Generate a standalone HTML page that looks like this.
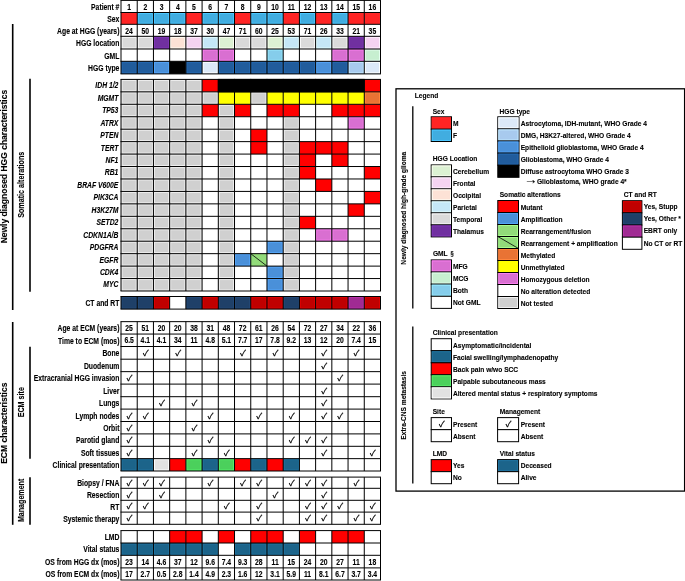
<!DOCTYPE html>
<html><head><meta charset="utf-8"><title>Figure</title>
<style>
html,body{margin:0;padding:0;background:#fff;}
svg{display:block}
svg text{font-family:"Liberation Sans", Arial, sans-serif;fill:#000;stroke:#000;stroke-width:0.12px;}
svg text.ck{font-family:"Noto Sans CJK JP","DejaVu Sans",sans-serif;stroke-width:0.3px;}
</style></head><body>
<svg width="685" height="581" viewBox="0 0 685 581">
<rect x="0" y="0" width="685" height="581" fill="#fff"/>
<rect x="121.00" y="12.50" width="16.22" height="11.80" fill="#ff2424"/>
<rect x="122.00" y="13.50" width="14.22" height="9.80" fill="none" stroke="#ff2929" stroke-width="1"/>
<rect x="137.22" y="12.50" width="16.22" height="11.80" fill="#41ade0"/>
<rect x="138.22" y="13.50" width="14.22" height="9.80" fill="none" stroke="#4bc7ff" stroke-width="1"/>
<rect x="153.44" y="12.50" width="16.22" height="11.80" fill="#41ade0"/>
<rect x="154.44" y="13.50" width="14.22" height="9.80" fill="none" stroke="#4bc7ff" stroke-width="1"/>
<rect x="169.66" y="12.50" width="16.22" height="11.80" fill="#41ade0"/>
<rect x="170.66" y="13.50" width="14.22" height="9.80" fill="none" stroke="#4bc7ff" stroke-width="1"/>
<rect x="185.88" y="12.50" width="16.22" height="11.80" fill="#ff2424"/>
<rect x="186.88" y="13.50" width="14.22" height="9.80" fill="none" stroke="#ff2929" stroke-width="1"/>
<rect x="202.09" y="12.50" width="16.22" height="11.80" fill="#41ade0"/>
<rect x="203.09" y="13.50" width="14.22" height="9.80" fill="none" stroke="#4bc7ff" stroke-width="1"/>
<rect x="218.31" y="12.50" width="16.22" height="11.80" fill="#41ade0"/>
<rect x="219.31" y="13.50" width="14.22" height="9.80" fill="none" stroke="#4bc7ff" stroke-width="1"/>
<rect x="234.53" y="12.50" width="16.22" height="11.80" fill="#ff2424"/>
<rect x="235.53" y="13.50" width="14.22" height="9.80" fill="none" stroke="#ff2929" stroke-width="1"/>
<rect x="250.75" y="12.50" width="16.22" height="11.80" fill="#41ade0"/>
<rect x="251.75" y="13.50" width="14.22" height="9.80" fill="none" stroke="#4bc7ff" stroke-width="1"/>
<rect x="266.97" y="12.50" width="16.22" height="11.80" fill="#41ade0"/>
<rect x="267.97" y="13.50" width="14.22" height="9.80" fill="none" stroke="#4bc7ff" stroke-width="1"/>
<rect x="283.19" y="12.50" width="16.22" height="11.80" fill="#ff2424"/>
<rect x="284.19" y="13.50" width="14.22" height="9.80" fill="none" stroke="#ff2929" stroke-width="1"/>
<rect x="299.41" y="12.50" width="16.22" height="11.80" fill="#41ade0"/>
<rect x="300.41" y="13.50" width="14.22" height="9.80" fill="none" stroke="#4bc7ff" stroke-width="1"/>
<rect x="315.62" y="12.50" width="16.22" height="11.80" fill="#ff2424"/>
<rect x="316.62" y="13.50" width="14.22" height="9.80" fill="none" stroke="#ff2929" stroke-width="1"/>
<rect x="331.84" y="12.50" width="16.22" height="11.80" fill="#41ade0"/>
<rect x="332.84" y="13.50" width="14.22" height="9.80" fill="none" stroke="#4bc7ff" stroke-width="1"/>
<rect x="348.06" y="12.50" width="16.22" height="11.80" fill="#ff2424"/>
<rect x="349.06" y="13.50" width="14.22" height="9.80" fill="none" stroke="#ff2929" stroke-width="1"/>
<rect x="364.28" y="12.50" width="16.22" height="11.80" fill="#ff2424"/>
<rect x="365.28" y="13.50" width="14.22" height="9.80" fill="none" stroke="#ff2929" stroke-width="1"/>
<rect x="121.00" y="36.30" width="16.22" height="12.70" fill="#dadada"/>
<rect x="122.00" y="37.30" width="14.22" height="10.70" fill="none" stroke="#fbfbfb" stroke-width="1"/>
<rect x="137.22" y="36.30" width="16.22" height="12.70" fill="#dadada"/>
<rect x="138.22" y="37.30" width="14.22" height="10.70" fill="none" stroke="#fbfbfb" stroke-width="1"/>
<rect x="153.44" y="36.30" width="16.22" height="12.70" fill="#7030a0"/>
<rect x="154.44" y="37.30" width="14.22" height="10.70" fill="none" stroke="#8137b8" stroke-width="1"/>
<rect x="169.66" y="36.30" width="16.22" height="12.70" fill="#fde2d6"/>
<rect x="170.66" y="37.30" width="14.22" height="10.70" fill="none" stroke="#fffff6" stroke-width="1"/>
<rect x="185.88" y="36.30" width="16.22" height="12.70" fill="#f5d3f1"/>
<rect x="186.88" y="37.30" width="14.22" height="10.70" fill="none" stroke="#fff3ff" stroke-width="1"/>
<rect x="202.09" y="36.30" width="16.22" height="12.70" fill="#c5e7f7"/>
<rect x="203.09" y="37.30" width="14.22" height="10.70" fill="none" stroke="#e3ffff" stroke-width="1"/>
<rect x="218.31" y="36.30" width="16.22" height="12.70" fill="#dcf1d3"/>
<rect x="219.31" y="37.30" width="14.22" height="10.70" fill="none" stroke="#fdfff3" stroke-width="1"/>
<rect x="234.53" y="36.30" width="16.22" height="12.70" fill="#dadada"/>
<rect x="235.53" y="37.30" width="14.22" height="10.70" fill="none" stroke="#fbfbfb" stroke-width="1"/>
<rect x="250.75" y="36.30" width="16.22" height="12.70" fill="#dadada"/>
<rect x="251.75" y="37.30" width="14.22" height="10.70" fill="none" stroke="#fbfbfb" stroke-width="1"/>
<rect x="266.97" y="36.30" width="16.22" height="12.70" fill="#dcf1d3"/>
<rect x="267.97" y="37.30" width="14.22" height="10.70" fill="none" stroke="#fdfff3" stroke-width="1"/>
<rect x="283.19" y="36.30" width="16.22" height="12.70" fill="#c5e7f7"/>
<rect x="284.19" y="37.30" width="14.22" height="10.70" fill="none" stroke="#e3ffff" stroke-width="1"/>
<rect x="299.41" y="36.30" width="16.22" height="12.70" fill="#dadada"/>
<rect x="300.41" y="37.30" width="14.22" height="10.70" fill="none" stroke="#fbfbfb" stroke-width="1"/>
<rect x="315.62" y="36.30" width="16.22" height="12.70" fill="#c5e7f7"/>
<rect x="316.62" y="37.30" width="14.22" height="10.70" fill="none" stroke="#e3ffff" stroke-width="1"/>
<rect x="331.84" y="36.30" width="16.22" height="12.70" fill="#dadada"/>
<rect x="332.84" y="37.30" width="14.22" height="10.70" fill="none" stroke="#fbfbfb" stroke-width="1"/>
<rect x="348.06" y="36.30" width="16.22" height="12.70" fill="#7030a0"/>
<rect x="349.06" y="37.30" width="14.22" height="10.70" fill="none" stroke="#8137b8" stroke-width="1"/>
<rect x="364.28" y="36.30" width="16.22" height="12.70" fill="#f5d3f1"/>
<rect x="365.28" y="37.30" width="14.22" height="10.70" fill="none" stroke="#fff3ff" stroke-width="1"/>
<rect x="202.09" y="49.00" width="16.22" height="12.30" fill="#d96fd1"/>
<rect x="203.09" y="50.00" width="14.22" height="10.30" fill="none" stroke="#fa80f0" stroke-width="1"/>
<rect x="218.31" y="49.00" width="16.22" height="12.30" fill="#d96fd1"/>
<rect x="219.31" y="50.00" width="14.22" height="10.30" fill="none" stroke="#fa80f0" stroke-width="1"/>
<rect x="266.97" y="49.00" width="16.22" height="12.30" fill="#85cdeb"/>
<rect x="267.97" y="50.00" width="14.22" height="10.30" fill="none" stroke="#99ecff" stroke-width="1"/>
<rect x="331.84" y="49.00" width="16.22" height="12.30" fill="#d96fd1"/>
<rect x="332.84" y="50.00" width="14.22" height="10.30" fill="none" stroke="#fa80f0" stroke-width="1"/>
<rect x="348.06" y="49.00" width="16.22" height="12.30" fill="#d96fd1"/>
<rect x="349.06" y="50.00" width="14.22" height="10.30" fill="none" stroke="#fa80f0" stroke-width="1"/>
<rect x="364.28" y="49.00" width="16.22" height="12.30" fill="#c7efd0"/>
<rect x="365.28" y="50.00" width="14.22" height="10.30" fill="none" stroke="#e5ffef" stroke-width="1"/>
<rect x="121.00" y="61.30" width="16.22" height="12.60" fill="#215c9c"/>
<rect x="122.00" y="62.30" width="14.22" height="10.60" fill="none" stroke="#266ab3" stroke-width="1"/>
<rect x="137.22" y="61.30" width="16.22" height="12.60" fill="#215c9c"/>
<rect x="138.22" y="62.30" width="14.22" height="10.60" fill="none" stroke="#266ab3" stroke-width="1"/>
<rect x="153.44" y="61.30" width="16.22" height="12.60" fill="#4a90d9"/>
<rect x="154.44" y="62.30" width="14.22" height="10.60" fill="none" stroke="#55a6fa" stroke-width="1"/>
<rect x="169.66" y="61.30" width="16.22" height="12.60" fill="#000000"/>
<rect x="185.88" y="61.30" width="16.22" height="12.60" fill="#215c9c"/>
<rect x="186.88" y="62.30" width="14.22" height="10.60" fill="none" stroke="#266ab3" stroke-width="1"/>
<rect x="202.09" y="61.30" width="16.22" height="12.60" fill="#dce9f8"/>
<rect x="203.09" y="62.30" width="14.22" height="10.60" fill="none" stroke="#fdffff" stroke-width="1"/>
<rect x="218.31" y="61.30" width="16.22" height="12.60" fill="#215c9c"/>
<rect x="219.31" y="62.30" width="14.22" height="10.60" fill="none" stroke="#266ab3" stroke-width="1"/>
<rect x="234.53" y="61.30" width="16.22" height="12.60" fill="#215c9c"/>
<rect x="235.53" y="62.30" width="14.22" height="10.60" fill="none" stroke="#266ab3" stroke-width="1"/>
<rect x="250.75" y="61.30" width="16.22" height="12.60" fill="#215c9c"/>
<rect x="251.75" y="62.30" width="14.22" height="10.60" fill="none" stroke="#266ab3" stroke-width="1"/>
<rect x="266.97" y="61.30" width="16.22" height="12.60" fill="#215c9c"/>
<rect x="267.97" y="62.30" width="14.22" height="10.60" fill="none" stroke="#266ab3" stroke-width="1"/>
<rect x="283.19" y="61.30" width="16.22" height="12.60" fill="#215c9c"/>
<rect x="284.19" y="62.30" width="14.22" height="10.60" fill="none" stroke="#266ab3" stroke-width="1"/>
<rect x="299.41" y="61.30" width="16.22" height="12.60" fill="#215c9c"/>
<rect x="300.41" y="62.30" width="14.22" height="10.60" fill="none" stroke="#266ab3" stroke-width="1"/>
<rect x="315.62" y="61.30" width="16.22" height="12.60" fill="#4a90d9"/>
<rect x="316.62" y="62.30" width="14.22" height="10.60" fill="none" stroke="#55a6fa" stroke-width="1"/>
<rect x="331.84" y="61.30" width="16.22" height="12.60" fill="#215c9c"/>
<rect x="332.84" y="62.30" width="14.22" height="10.60" fill="none" stroke="#266ab3" stroke-width="1"/>
<rect x="348.06" y="61.30" width="16.22" height="12.60" fill="#a8caee"/>
<rect x="349.06" y="62.30" width="14.22" height="10.60" fill="none" stroke="#c1e8ff" stroke-width="1"/>
<rect x="364.28" y="61.30" width="16.22" height="12.60" fill="#dce9f8"/>
<rect x="365.28" y="62.30" width="14.22" height="10.60" fill="none" stroke="#fdffff" stroke-width="1"/>
<line x1="120.50" y1="0.40" x2="381.00" y2="0.40" stroke="#000" stroke-width="1.0"/>
<line x1="120.50" y1="12.50" x2="381.00" y2="12.50" stroke="#000" stroke-width="1.0"/>
<line x1="120.50" y1="24.30" x2="381.00" y2="24.30" stroke="#000" stroke-width="1.0"/>
<line x1="120.50" y1="36.30" x2="381.00" y2="36.30" stroke="#000" stroke-width="1.0"/>
<line x1="120.50" y1="49.00" x2="381.00" y2="49.00" stroke="#000" stroke-width="1.0"/>
<line x1="120.50" y1="61.30" x2="381.00" y2="61.30" stroke="#000" stroke-width="1.0"/>
<line x1="120.50" y1="73.90" x2="381.00" y2="73.90" stroke="#000" stroke-width="1.0"/>
<line x1="121.00" y1="0.40" x2="121.00" y2="73.90" stroke="#000" stroke-width="1.0"/>
<line x1="137.22" y1="0.40" x2="137.22" y2="73.90" stroke="#000" stroke-width="1.0"/>
<line x1="153.44" y1="0.40" x2="153.44" y2="73.90" stroke="#000" stroke-width="1.0"/>
<line x1="169.66" y1="0.40" x2="169.66" y2="73.90" stroke="#000" stroke-width="1.0"/>
<line x1="185.88" y1="0.40" x2="185.88" y2="73.90" stroke="#000" stroke-width="1.0"/>
<line x1="202.09" y1="0.40" x2="202.09" y2="73.90" stroke="#000" stroke-width="1.0"/>
<line x1="218.31" y1="0.40" x2="218.31" y2="73.90" stroke="#000" stroke-width="1.0"/>
<line x1="234.53" y1="0.40" x2="234.53" y2="73.90" stroke="#000" stroke-width="1.0"/>
<line x1="250.75" y1="0.40" x2="250.75" y2="73.90" stroke="#000" stroke-width="1.0"/>
<line x1="266.97" y1="0.40" x2="266.97" y2="73.90" stroke="#000" stroke-width="1.0"/>
<line x1="283.19" y1="0.40" x2="283.19" y2="73.90" stroke="#000" stroke-width="1.0"/>
<line x1="299.41" y1="0.40" x2="299.41" y2="73.90" stroke="#000" stroke-width="1.0"/>
<line x1="315.62" y1="0.40" x2="315.62" y2="73.90" stroke="#000" stroke-width="1.0"/>
<line x1="331.84" y1="0.40" x2="331.84" y2="73.90" stroke="#000" stroke-width="1.0"/>
<line x1="348.06" y1="0.40" x2="348.06" y2="73.90" stroke="#000" stroke-width="1.0"/>
<line x1="364.28" y1="0.40" x2="364.28" y2="73.90" stroke="#000" stroke-width="1.0"/>
<line x1="380.50" y1="0.40" x2="380.50" y2="73.90" stroke="#000" stroke-width="1.0"/>
<text transform="translate(129.11,9.85) scale(0.825,1)" font-size="8.25" text-anchor="middle" font-weight="bold">1</text>
<text transform="translate(145.33,9.85) scale(0.825,1)" font-size="8.25" text-anchor="middle" font-weight="bold">2</text>
<text transform="translate(161.55,9.85) scale(0.825,1)" font-size="8.25" text-anchor="middle" font-weight="bold">3</text>
<text transform="translate(177.77,9.85) scale(0.825,1)" font-size="8.25" text-anchor="middle" font-weight="bold">4</text>
<text transform="translate(193.98,9.85) scale(0.825,1)" font-size="8.25" text-anchor="middle" font-weight="bold">5</text>
<text transform="translate(210.20,9.85) scale(0.825,1)" font-size="8.25" text-anchor="middle" font-weight="bold">6</text>
<text transform="translate(226.42,9.85) scale(0.825,1)" font-size="8.25" text-anchor="middle" font-weight="bold">7</text>
<text transform="translate(242.64,9.85) scale(0.825,1)" font-size="8.25" text-anchor="middle" font-weight="bold">8</text>
<text transform="translate(258.86,9.85) scale(0.825,1)" font-size="8.25" text-anchor="middle" font-weight="bold">9</text>
<text transform="translate(275.08,9.85) scale(0.825,1)" font-size="8.25" text-anchor="middle" font-weight="bold">10</text>
<text transform="translate(291.30,9.85) scale(0.825,1)" font-size="8.25" text-anchor="middle" font-weight="bold">11</text>
<text transform="translate(307.52,9.85) scale(0.825,1)" font-size="8.25" text-anchor="middle" font-weight="bold">12</text>
<text transform="translate(323.73,9.85) scale(0.825,1)" font-size="8.25" text-anchor="middle" font-weight="bold">13</text>
<text transform="translate(339.95,9.85) scale(0.825,1)" font-size="8.25" text-anchor="middle" font-weight="bold">14</text>
<text transform="translate(356.17,9.85) scale(0.825,1)" font-size="8.25" text-anchor="middle" font-weight="bold">15</text>
<text transform="translate(372.39,9.85) scale(0.825,1)" font-size="8.25" text-anchor="middle" font-weight="bold">16</text>
<text transform="translate(119.40,10.05) scale(0.825,1)" font-size="8.25" text-anchor="end" font-weight="bold">Patient #</text>
<text transform="translate(119.40,22.17) scale(0.825,1)" font-size="8.25" text-anchor="end" font-weight="bold">Sex</text>
<text transform="translate(129.11,33.70) scale(0.825,1)" font-size="8.25" text-anchor="middle" font-weight="bold">24</text>
<text transform="translate(145.33,33.70) scale(0.825,1)" font-size="8.25" text-anchor="middle" font-weight="bold">50</text>
<text transform="translate(161.55,33.70) scale(0.825,1)" font-size="8.25" text-anchor="middle" font-weight="bold">19</text>
<text transform="translate(177.77,33.70) scale(0.825,1)" font-size="8.25" text-anchor="middle" font-weight="bold">18</text>
<text transform="translate(193.98,33.70) scale(0.825,1)" font-size="8.25" text-anchor="middle" font-weight="bold">37</text>
<text transform="translate(210.20,33.70) scale(0.825,1)" font-size="8.25" text-anchor="middle" font-weight="bold">30</text>
<text transform="translate(226.42,33.70) scale(0.825,1)" font-size="8.25" text-anchor="middle" font-weight="bold">47</text>
<text transform="translate(242.64,33.70) scale(0.825,1)" font-size="8.25" text-anchor="middle" font-weight="bold">71</text>
<text transform="translate(258.86,33.70) scale(0.825,1)" font-size="8.25" text-anchor="middle" font-weight="bold">60</text>
<text transform="translate(275.08,33.70) scale(0.825,1)" font-size="8.25" text-anchor="middle" font-weight="bold">25</text>
<text transform="translate(291.30,33.70) scale(0.825,1)" font-size="8.25" text-anchor="middle" font-weight="bold">53</text>
<text transform="translate(307.52,33.70) scale(0.825,1)" font-size="8.25" text-anchor="middle" font-weight="bold">71</text>
<text transform="translate(323.73,33.70) scale(0.825,1)" font-size="8.25" text-anchor="middle" font-weight="bold">26</text>
<text transform="translate(339.95,33.70) scale(0.825,1)" font-size="8.25" text-anchor="middle" font-weight="bold">33</text>
<text transform="translate(356.17,33.70) scale(0.825,1)" font-size="8.25" text-anchor="middle" font-weight="bold">21</text>
<text transform="translate(372.39,33.70) scale(0.825,1)" font-size="8.25" text-anchor="middle" font-weight="bold">35</text>
<text transform="translate(119.40,34.29) scale(0.825,1)" font-size="8.25" text-anchor="end" font-weight="bold">Age at HGG (years)</text>
<text transform="translate(119.40,46.41) scale(0.825,1)" font-size="8.25" text-anchor="end" font-weight="bold">HGG location</text>
<text transform="translate(119.40,58.53) scale(0.825,1)" font-size="8.25" text-anchor="end" font-weight="bold">GML</text>
<text transform="translate(119.40,70.65) scale(0.825,1)" font-size="8.25" text-anchor="end" font-weight="bold">HGG type</text>
<rect x="121.00" y="79.40" width="16.22" height="12.45" fill="#d0d0d0"/>
<rect x="122.00" y="80.40" width="14.22" height="10.45" fill="none" stroke="#efefef" stroke-width="1"/>
<rect x="137.22" y="79.40" width="16.22" height="12.45" fill="#d0d0d0"/>
<rect x="138.22" y="80.40" width="14.22" height="10.45" fill="none" stroke="#efefef" stroke-width="1"/>
<rect x="153.44" y="79.40" width="16.22" height="12.45" fill="#d0d0d0"/>
<rect x="154.44" y="80.40" width="14.22" height="10.45" fill="none" stroke="#efefef" stroke-width="1"/>
<rect x="169.66" y="79.40" width="16.22" height="12.45" fill="#d0d0d0"/>
<rect x="170.66" y="80.40" width="14.22" height="10.45" fill="none" stroke="#efefef" stroke-width="1"/>
<rect x="185.88" y="79.40" width="16.22" height="12.45" fill="#d0d0d0"/>
<rect x="186.88" y="80.40" width="14.22" height="10.45" fill="none" stroke="#efefef" stroke-width="1"/>
<rect x="202.09" y="79.40" width="16.22" height="12.45" fill="#ff0000"/>
<rect x="364.28" y="79.40" width="16.22" height="12.45" fill="#ff0000"/>
<rect x="121.00" y="91.85" width="16.22" height="12.45" fill="#d0d0d0"/>
<rect x="122.00" y="92.85" width="14.22" height="10.45" fill="none" stroke="#efefef" stroke-width="1"/>
<rect x="137.22" y="91.85" width="16.22" height="12.45" fill="#d0d0d0"/>
<rect x="138.22" y="92.85" width="14.22" height="10.45" fill="none" stroke="#efefef" stroke-width="1"/>
<rect x="153.44" y="91.85" width="16.22" height="12.45" fill="#d0d0d0"/>
<rect x="154.44" y="92.85" width="14.22" height="10.45" fill="none" stroke="#efefef" stroke-width="1"/>
<rect x="169.66" y="91.85" width="16.22" height="12.45" fill="#d0d0d0"/>
<rect x="170.66" y="92.85" width="14.22" height="10.45" fill="none" stroke="#efefef" stroke-width="1"/>
<rect x="185.88" y="91.85" width="16.22" height="12.45" fill="#d0d0d0"/>
<rect x="186.88" y="92.85" width="14.22" height="10.45" fill="none" stroke="#efefef" stroke-width="1"/>
<rect x="202.09" y="91.85" width="16.22" height="12.45" fill="#d0d0d0"/>
<rect x="203.09" y="92.85" width="14.22" height="10.45" fill="none" stroke="#efefef" stroke-width="1"/>
<rect x="218.31" y="91.85" width="16.22" height="12.45" fill="#ffff00"/>
<rect x="234.53" y="91.85" width="16.22" height="12.45" fill="#ffff00"/>
<rect x="250.75" y="91.85" width="16.22" height="12.45" fill="#d0d0d0"/>
<rect x="251.75" y="92.85" width="14.22" height="10.45" fill="none" stroke="#efefef" stroke-width="1"/>
<rect x="266.97" y="91.85" width="16.22" height="12.45" fill="#ffff00"/>
<rect x="283.19" y="91.85" width="16.22" height="12.45" fill="#ffff00"/>
<rect x="299.41" y="91.85" width="16.22" height="12.45" fill="#ffff00"/>
<rect x="315.62" y="91.85" width="16.22" height="12.45" fill="#ffff00"/>
<rect x="331.84" y="91.85" width="16.22" height="12.45" fill="#ffff00"/>
<rect x="348.06" y="91.85" width="16.22" height="12.45" fill="#ffff00"/>
<rect x="364.28" y="91.85" width="16.22" height="12.45" fill="#e97334"/>
<rect x="365.28" y="92.85" width="14.22" height="10.45" fill="none" stroke="#ff843c" stroke-width="1"/>
<rect x="121.00" y="104.29" width="16.22" height="12.45" fill="#d0d0d0"/>
<rect x="122.00" y="105.29" width="14.22" height="10.45" fill="none" stroke="#efefef" stroke-width="1"/>
<rect x="137.22" y="104.29" width="16.22" height="12.45" fill="#d0d0d0"/>
<rect x="138.22" y="105.29" width="14.22" height="10.45" fill="none" stroke="#efefef" stroke-width="1"/>
<rect x="153.44" y="104.29" width="16.22" height="12.45" fill="#d0d0d0"/>
<rect x="154.44" y="105.29" width="14.22" height="10.45" fill="none" stroke="#efefef" stroke-width="1"/>
<rect x="169.66" y="104.29" width="16.22" height="12.45" fill="#d0d0d0"/>
<rect x="170.66" y="105.29" width="14.22" height="10.45" fill="none" stroke="#efefef" stroke-width="1"/>
<rect x="185.88" y="104.29" width="16.22" height="12.45" fill="#d0d0d0"/>
<rect x="186.88" y="105.29" width="14.22" height="10.45" fill="none" stroke="#efefef" stroke-width="1"/>
<rect x="202.09" y="104.29" width="16.22" height="12.45" fill="#ff0000"/>
<rect x="218.31" y="104.29" width="16.22" height="12.45" fill="#d0d0d0"/>
<rect x="219.31" y="105.29" width="14.22" height="10.45" fill="none" stroke="#efefef" stroke-width="1"/>
<rect x="234.53" y="104.29" width="16.22" height="12.45" fill="#ff0000"/>
<rect x="266.97" y="104.29" width="16.22" height="12.45" fill="#ff0000"/>
<rect x="283.19" y="104.29" width="16.22" height="12.45" fill="#ff0000"/>
<rect x="331.84" y="104.29" width="16.22" height="12.45" fill="#ff0000"/>
<rect x="348.06" y="104.29" width="16.22" height="12.45" fill="#ff0000"/>
<rect x="364.28" y="104.29" width="16.22" height="12.45" fill="#ff0000"/>
<rect x="121.00" y="116.74" width="16.22" height="12.45" fill="#d0d0d0"/>
<rect x="122.00" y="117.74" width="14.22" height="10.45" fill="none" stroke="#efefef" stroke-width="1"/>
<rect x="137.22" y="116.74" width="16.22" height="12.45" fill="#d0d0d0"/>
<rect x="138.22" y="117.74" width="14.22" height="10.45" fill="none" stroke="#efefef" stroke-width="1"/>
<rect x="153.44" y="116.74" width="16.22" height="12.45" fill="#d0d0d0"/>
<rect x="154.44" y="117.74" width="14.22" height="10.45" fill="none" stroke="#efefef" stroke-width="1"/>
<rect x="169.66" y="116.74" width="16.22" height="12.45" fill="#d0d0d0"/>
<rect x="170.66" y="117.74" width="14.22" height="10.45" fill="none" stroke="#efefef" stroke-width="1"/>
<rect x="185.88" y="116.74" width="16.22" height="12.45" fill="#d0d0d0"/>
<rect x="186.88" y="117.74" width="14.22" height="10.45" fill="none" stroke="#efefef" stroke-width="1"/>
<rect x="218.31" y="116.74" width="16.22" height="12.45" fill="#d0d0d0"/>
<rect x="219.31" y="117.74" width="14.22" height="10.45" fill="none" stroke="#efefef" stroke-width="1"/>
<rect x="283.19" y="116.74" width="16.22" height="12.45" fill="#d0d0d0"/>
<rect x="284.19" y="117.74" width="14.22" height="10.45" fill="none" stroke="#efefef" stroke-width="1"/>
<rect x="348.06" y="116.74" width="16.22" height="12.45" fill="#d96fd1"/>
<rect x="349.06" y="117.74" width="14.22" height="10.45" fill="none" stroke="#fa80f0" stroke-width="1"/>
<rect x="121.00" y="129.19" width="16.22" height="12.45" fill="#d0d0d0"/>
<rect x="122.00" y="130.19" width="14.22" height="10.45" fill="none" stroke="#efefef" stroke-width="1"/>
<rect x="137.22" y="129.19" width="16.22" height="12.45" fill="#d0d0d0"/>
<rect x="138.22" y="130.19" width="14.22" height="10.45" fill="none" stroke="#efefef" stroke-width="1"/>
<rect x="153.44" y="129.19" width="16.22" height="12.45" fill="#d0d0d0"/>
<rect x="154.44" y="130.19" width="14.22" height="10.45" fill="none" stroke="#efefef" stroke-width="1"/>
<rect x="169.66" y="129.19" width="16.22" height="12.45" fill="#d0d0d0"/>
<rect x="170.66" y="130.19" width="14.22" height="10.45" fill="none" stroke="#efefef" stroke-width="1"/>
<rect x="185.88" y="129.19" width="16.22" height="12.45" fill="#d0d0d0"/>
<rect x="186.88" y="130.19" width="14.22" height="10.45" fill="none" stroke="#efefef" stroke-width="1"/>
<rect x="218.31" y="129.19" width="16.22" height="12.45" fill="#d0d0d0"/>
<rect x="219.31" y="130.19" width="14.22" height="10.45" fill="none" stroke="#efefef" stroke-width="1"/>
<rect x="250.75" y="129.19" width="16.22" height="12.45" fill="#ff0000"/>
<rect x="283.19" y="129.19" width="16.22" height="12.45" fill="#d0d0d0"/>
<rect x="284.19" y="130.19" width="14.22" height="10.45" fill="none" stroke="#efefef" stroke-width="1"/>
<rect x="121.00" y="141.64" width="16.22" height="12.45" fill="#d0d0d0"/>
<rect x="122.00" y="142.64" width="14.22" height="10.45" fill="none" stroke="#efefef" stroke-width="1"/>
<rect x="137.22" y="141.64" width="16.22" height="12.45" fill="#d0d0d0"/>
<rect x="138.22" y="142.64" width="14.22" height="10.45" fill="none" stroke="#efefef" stroke-width="1"/>
<rect x="153.44" y="141.64" width="16.22" height="12.45" fill="#d0d0d0"/>
<rect x="154.44" y="142.64" width="14.22" height="10.45" fill="none" stroke="#efefef" stroke-width="1"/>
<rect x="169.66" y="141.64" width="16.22" height="12.45" fill="#d0d0d0"/>
<rect x="170.66" y="142.64" width="14.22" height="10.45" fill="none" stroke="#efefef" stroke-width="1"/>
<rect x="185.88" y="141.64" width="16.22" height="12.45" fill="#d0d0d0"/>
<rect x="186.88" y="142.64" width="14.22" height="10.45" fill="none" stroke="#efefef" stroke-width="1"/>
<rect x="218.31" y="141.64" width="16.22" height="12.45" fill="#d0d0d0"/>
<rect x="219.31" y="142.64" width="14.22" height="10.45" fill="none" stroke="#efefef" stroke-width="1"/>
<rect x="250.75" y="141.64" width="16.22" height="12.45" fill="#ff0000"/>
<rect x="283.19" y="141.64" width="16.22" height="12.45" fill="#d0d0d0"/>
<rect x="284.19" y="142.64" width="14.22" height="10.45" fill="none" stroke="#efefef" stroke-width="1"/>
<rect x="299.41" y="141.64" width="16.22" height="12.45" fill="#ff0000"/>
<rect x="315.62" y="141.64" width="16.22" height="12.45" fill="#ff0000"/>
<rect x="331.84" y="141.64" width="16.22" height="12.45" fill="#ff0000"/>
<rect x="121.00" y="154.08" width="16.22" height="12.45" fill="#d0d0d0"/>
<rect x="122.00" y="155.08" width="14.22" height="10.45" fill="none" stroke="#efefef" stroke-width="1"/>
<rect x="137.22" y="154.08" width="16.22" height="12.45" fill="#d0d0d0"/>
<rect x="138.22" y="155.08" width="14.22" height="10.45" fill="none" stroke="#efefef" stroke-width="1"/>
<rect x="153.44" y="154.08" width="16.22" height="12.45" fill="#d0d0d0"/>
<rect x="154.44" y="155.08" width="14.22" height="10.45" fill="none" stroke="#efefef" stroke-width="1"/>
<rect x="169.66" y="154.08" width="16.22" height="12.45" fill="#d0d0d0"/>
<rect x="170.66" y="155.08" width="14.22" height="10.45" fill="none" stroke="#efefef" stroke-width="1"/>
<rect x="185.88" y="154.08" width="16.22" height="12.45" fill="#d0d0d0"/>
<rect x="186.88" y="155.08" width="14.22" height="10.45" fill="none" stroke="#efefef" stroke-width="1"/>
<rect x="218.31" y="154.08" width="16.22" height="12.45" fill="#d0d0d0"/>
<rect x="219.31" y="155.08" width="14.22" height="10.45" fill="none" stroke="#efefef" stroke-width="1"/>
<rect x="283.19" y="154.08" width="16.22" height="12.45" fill="#d0d0d0"/>
<rect x="284.19" y="155.08" width="14.22" height="10.45" fill="none" stroke="#efefef" stroke-width="1"/>
<rect x="299.41" y="154.08" width="16.22" height="12.45" fill="#ff0000"/>
<rect x="331.84" y="154.08" width="16.22" height="12.45" fill="#ff0000"/>
<rect x="121.00" y="166.53" width="16.22" height="12.45" fill="#d0d0d0"/>
<rect x="122.00" y="167.53" width="14.22" height="10.45" fill="none" stroke="#efefef" stroke-width="1"/>
<rect x="137.22" y="166.53" width="16.22" height="12.45" fill="#d0d0d0"/>
<rect x="138.22" y="167.53" width="14.22" height="10.45" fill="none" stroke="#efefef" stroke-width="1"/>
<rect x="153.44" y="166.53" width="16.22" height="12.45" fill="#d0d0d0"/>
<rect x="154.44" y="167.53" width="14.22" height="10.45" fill="none" stroke="#efefef" stroke-width="1"/>
<rect x="169.66" y="166.53" width="16.22" height="12.45" fill="#d0d0d0"/>
<rect x="170.66" y="167.53" width="14.22" height="10.45" fill="none" stroke="#efefef" stroke-width="1"/>
<rect x="185.88" y="166.53" width="16.22" height="12.45" fill="#d0d0d0"/>
<rect x="186.88" y="167.53" width="14.22" height="10.45" fill="none" stroke="#efefef" stroke-width="1"/>
<rect x="218.31" y="166.53" width="16.22" height="12.45" fill="#d0d0d0"/>
<rect x="219.31" y="167.53" width="14.22" height="10.45" fill="none" stroke="#efefef" stroke-width="1"/>
<rect x="283.19" y="166.53" width="16.22" height="12.45" fill="#d0d0d0"/>
<rect x="284.19" y="167.53" width="14.22" height="10.45" fill="none" stroke="#efefef" stroke-width="1"/>
<rect x="299.41" y="166.53" width="16.22" height="12.45" fill="#ff0000"/>
<rect x="364.28" y="166.53" width="16.22" height="12.45" fill="#ff0000"/>
<rect x="121.00" y="178.98" width="16.22" height="12.45" fill="#d0d0d0"/>
<rect x="122.00" y="179.98" width="14.22" height="10.45" fill="none" stroke="#efefef" stroke-width="1"/>
<rect x="137.22" y="178.98" width="16.22" height="12.45" fill="#d0d0d0"/>
<rect x="138.22" y="179.98" width="14.22" height="10.45" fill="none" stroke="#efefef" stroke-width="1"/>
<rect x="153.44" y="178.98" width="16.22" height="12.45" fill="#d0d0d0"/>
<rect x="154.44" y="179.98" width="14.22" height="10.45" fill="none" stroke="#efefef" stroke-width="1"/>
<rect x="169.66" y="178.98" width="16.22" height="12.45" fill="#d0d0d0"/>
<rect x="170.66" y="179.98" width="14.22" height="10.45" fill="none" stroke="#efefef" stroke-width="1"/>
<rect x="185.88" y="178.98" width="16.22" height="12.45" fill="#d0d0d0"/>
<rect x="186.88" y="179.98" width="14.22" height="10.45" fill="none" stroke="#efefef" stroke-width="1"/>
<rect x="218.31" y="178.98" width="16.22" height="12.45" fill="#d0d0d0"/>
<rect x="219.31" y="179.98" width="14.22" height="10.45" fill="none" stroke="#efefef" stroke-width="1"/>
<rect x="283.19" y="178.98" width="16.22" height="12.45" fill="#d0d0d0"/>
<rect x="284.19" y="179.98" width="14.22" height="10.45" fill="none" stroke="#efefef" stroke-width="1"/>
<rect x="315.62" y="178.98" width="16.22" height="12.45" fill="#ff0000"/>
<rect x="121.00" y="191.42" width="16.22" height="12.45" fill="#d0d0d0"/>
<rect x="122.00" y="192.42" width="14.22" height="10.45" fill="none" stroke="#efefef" stroke-width="1"/>
<rect x="137.22" y="191.42" width="16.22" height="12.45" fill="#d0d0d0"/>
<rect x="138.22" y="192.42" width="14.22" height="10.45" fill="none" stroke="#efefef" stroke-width="1"/>
<rect x="153.44" y="191.42" width="16.22" height="12.45" fill="#d0d0d0"/>
<rect x="154.44" y="192.42" width="14.22" height="10.45" fill="none" stroke="#efefef" stroke-width="1"/>
<rect x="169.66" y="191.42" width="16.22" height="12.45" fill="#d0d0d0"/>
<rect x="170.66" y="192.42" width="14.22" height="10.45" fill="none" stroke="#efefef" stroke-width="1"/>
<rect x="185.88" y="191.42" width="16.22" height="12.45" fill="#d0d0d0"/>
<rect x="186.88" y="192.42" width="14.22" height="10.45" fill="none" stroke="#efefef" stroke-width="1"/>
<rect x="218.31" y="191.42" width="16.22" height="12.45" fill="#d0d0d0"/>
<rect x="219.31" y="192.42" width="14.22" height="10.45" fill="none" stroke="#efefef" stroke-width="1"/>
<rect x="283.19" y="191.42" width="16.22" height="12.45" fill="#d0d0d0"/>
<rect x="284.19" y="192.42" width="14.22" height="10.45" fill="none" stroke="#efefef" stroke-width="1"/>
<rect x="364.28" y="191.42" width="16.22" height="12.45" fill="#ff0000"/>
<rect x="121.00" y="203.87" width="16.22" height="12.45" fill="#d0d0d0"/>
<rect x="122.00" y="204.87" width="14.22" height="10.45" fill="none" stroke="#efefef" stroke-width="1"/>
<rect x="137.22" y="203.87" width="16.22" height="12.45" fill="#d0d0d0"/>
<rect x="138.22" y="204.87" width="14.22" height="10.45" fill="none" stroke="#efefef" stroke-width="1"/>
<rect x="153.44" y="203.87" width="16.22" height="12.45" fill="#d0d0d0"/>
<rect x="154.44" y="204.87" width="14.22" height="10.45" fill="none" stroke="#efefef" stroke-width="1"/>
<rect x="169.66" y="203.87" width="16.22" height="12.45" fill="#d0d0d0"/>
<rect x="170.66" y="204.87" width="14.22" height="10.45" fill="none" stroke="#efefef" stroke-width="1"/>
<rect x="185.88" y="203.87" width="16.22" height="12.45" fill="#d0d0d0"/>
<rect x="186.88" y="204.87" width="14.22" height="10.45" fill="none" stroke="#efefef" stroke-width="1"/>
<rect x="218.31" y="203.87" width="16.22" height="12.45" fill="#d0d0d0"/>
<rect x="219.31" y="204.87" width="14.22" height="10.45" fill="none" stroke="#efefef" stroke-width="1"/>
<rect x="283.19" y="203.87" width="16.22" height="12.45" fill="#d0d0d0"/>
<rect x="284.19" y="204.87" width="14.22" height="10.45" fill="none" stroke="#efefef" stroke-width="1"/>
<rect x="348.06" y="203.87" width="16.22" height="12.45" fill="#ff0000"/>
<rect x="121.00" y="216.32" width="16.22" height="12.45" fill="#d0d0d0"/>
<rect x="122.00" y="217.32" width="14.22" height="10.45" fill="none" stroke="#efefef" stroke-width="1"/>
<rect x="137.22" y="216.32" width="16.22" height="12.45" fill="#d0d0d0"/>
<rect x="138.22" y="217.32" width="14.22" height="10.45" fill="none" stroke="#efefef" stroke-width="1"/>
<rect x="153.44" y="216.32" width="16.22" height="12.45" fill="#d0d0d0"/>
<rect x="154.44" y="217.32" width="14.22" height="10.45" fill="none" stroke="#efefef" stroke-width="1"/>
<rect x="169.66" y="216.32" width="16.22" height="12.45" fill="#d0d0d0"/>
<rect x="170.66" y="217.32" width="14.22" height="10.45" fill="none" stroke="#efefef" stroke-width="1"/>
<rect x="185.88" y="216.32" width="16.22" height="12.45" fill="#d0d0d0"/>
<rect x="186.88" y="217.32" width="14.22" height="10.45" fill="none" stroke="#efefef" stroke-width="1"/>
<rect x="218.31" y="216.32" width="16.22" height="12.45" fill="#d0d0d0"/>
<rect x="219.31" y="217.32" width="14.22" height="10.45" fill="none" stroke="#efefef" stroke-width="1"/>
<rect x="283.19" y="216.32" width="16.22" height="12.45" fill="#d0d0d0"/>
<rect x="284.19" y="217.32" width="14.22" height="10.45" fill="none" stroke="#efefef" stroke-width="1"/>
<rect x="299.41" y="216.32" width="16.22" height="12.45" fill="#ff0000"/>
<rect x="121.00" y="228.76" width="16.22" height="12.45" fill="#d0d0d0"/>
<rect x="122.00" y="229.76" width="14.22" height="10.45" fill="none" stroke="#efefef" stroke-width="1"/>
<rect x="137.22" y="228.76" width="16.22" height="12.45" fill="#d0d0d0"/>
<rect x="138.22" y="229.76" width="14.22" height="10.45" fill="none" stroke="#efefef" stroke-width="1"/>
<rect x="153.44" y="228.76" width="16.22" height="12.45" fill="#d0d0d0"/>
<rect x="154.44" y="229.76" width="14.22" height="10.45" fill="none" stroke="#efefef" stroke-width="1"/>
<rect x="169.66" y="228.76" width="16.22" height="12.45" fill="#d0d0d0"/>
<rect x="170.66" y="229.76" width="14.22" height="10.45" fill="none" stroke="#efefef" stroke-width="1"/>
<rect x="185.88" y="228.76" width="16.22" height="12.45" fill="#d0d0d0"/>
<rect x="186.88" y="229.76" width="14.22" height="10.45" fill="none" stroke="#efefef" stroke-width="1"/>
<rect x="218.31" y="228.76" width="16.22" height="12.45" fill="#d0d0d0"/>
<rect x="219.31" y="229.76" width="14.22" height="10.45" fill="none" stroke="#efefef" stroke-width="1"/>
<rect x="283.19" y="228.76" width="16.22" height="12.45" fill="#d0d0d0"/>
<rect x="284.19" y="229.76" width="14.22" height="10.45" fill="none" stroke="#efefef" stroke-width="1"/>
<rect x="315.62" y="228.76" width="16.22" height="12.45" fill="#d96fd1"/>
<rect x="316.62" y="229.76" width="14.22" height="10.45" fill="none" stroke="#fa80f0" stroke-width="1"/>
<rect x="331.84" y="228.76" width="16.22" height="12.45" fill="#d96fd1"/>
<rect x="332.84" y="229.76" width="14.22" height="10.45" fill="none" stroke="#fa80f0" stroke-width="1"/>
<rect x="121.00" y="241.21" width="16.22" height="12.45" fill="#d0d0d0"/>
<rect x="122.00" y="242.21" width="14.22" height="10.45" fill="none" stroke="#efefef" stroke-width="1"/>
<rect x="137.22" y="241.21" width="16.22" height="12.45" fill="#d0d0d0"/>
<rect x="138.22" y="242.21" width="14.22" height="10.45" fill="none" stroke="#efefef" stroke-width="1"/>
<rect x="153.44" y="241.21" width="16.22" height="12.45" fill="#d0d0d0"/>
<rect x="154.44" y="242.21" width="14.22" height="10.45" fill="none" stroke="#efefef" stroke-width="1"/>
<rect x="169.66" y="241.21" width="16.22" height="12.45" fill="#d0d0d0"/>
<rect x="170.66" y="242.21" width="14.22" height="10.45" fill="none" stroke="#efefef" stroke-width="1"/>
<rect x="185.88" y="241.21" width="16.22" height="12.45" fill="#d0d0d0"/>
<rect x="186.88" y="242.21" width="14.22" height="10.45" fill="none" stroke="#efefef" stroke-width="1"/>
<rect x="218.31" y="241.21" width="16.22" height="12.45" fill="#d0d0d0"/>
<rect x="219.31" y="242.21" width="14.22" height="10.45" fill="none" stroke="#efefef" stroke-width="1"/>
<rect x="266.97" y="241.21" width="16.22" height="12.45" fill="#4a90d9"/>
<rect x="267.97" y="242.21" width="14.22" height="10.45" fill="none" stroke="#55a6fa" stroke-width="1"/>
<rect x="283.19" y="241.21" width="16.22" height="12.45" fill="#d0d0d0"/>
<rect x="284.19" y="242.21" width="14.22" height="10.45" fill="none" stroke="#efefef" stroke-width="1"/>
<rect x="121.00" y="253.66" width="16.22" height="12.45" fill="#d0d0d0"/>
<rect x="122.00" y="254.66" width="14.22" height="10.45" fill="none" stroke="#efefef" stroke-width="1"/>
<rect x="137.22" y="253.66" width="16.22" height="12.45" fill="#d0d0d0"/>
<rect x="138.22" y="254.66" width="14.22" height="10.45" fill="none" stroke="#efefef" stroke-width="1"/>
<rect x="153.44" y="253.66" width="16.22" height="12.45" fill="#d0d0d0"/>
<rect x="154.44" y="254.66" width="14.22" height="10.45" fill="none" stroke="#efefef" stroke-width="1"/>
<rect x="169.66" y="253.66" width="16.22" height="12.45" fill="#d0d0d0"/>
<rect x="170.66" y="254.66" width="14.22" height="10.45" fill="none" stroke="#efefef" stroke-width="1"/>
<rect x="185.88" y="253.66" width="16.22" height="12.45" fill="#d0d0d0"/>
<rect x="186.88" y="254.66" width="14.22" height="10.45" fill="none" stroke="#efefef" stroke-width="1"/>
<rect x="218.31" y="253.66" width="16.22" height="12.45" fill="#d0d0d0"/>
<rect x="219.31" y="254.66" width="14.22" height="10.45" fill="none" stroke="#efefef" stroke-width="1"/>
<rect x="234.53" y="253.66" width="16.22" height="12.45" fill="#4a90d9"/>
<rect x="235.53" y="254.66" width="14.22" height="10.45" fill="none" stroke="#55a6fa" stroke-width="1"/>
<rect x="250.75" y="253.66" width="16.22" height="12.45" fill="#92db7a"/>
<line x1="250.75" y1="253.66" x2="266.97" y2="266.11" stroke="#000" stroke-width="0.8"/>
<rect x="283.19" y="253.66" width="16.22" height="12.45" fill="#d0d0d0"/>
<rect x="284.19" y="254.66" width="14.22" height="10.45" fill="none" stroke="#efefef" stroke-width="1"/>
<rect x="121.00" y="266.11" width="16.22" height="12.45" fill="#d0d0d0"/>
<rect x="122.00" y="267.11" width="14.22" height="10.45" fill="none" stroke="#efefef" stroke-width="1"/>
<rect x="137.22" y="266.11" width="16.22" height="12.45" fill="#d0d0d0"/>
<rect x="138.22" y="267.11" width="14.22" height="10.45" fill="none" stroke="#efefef" stroke-width="1"/>
<rect x="153.44" y="266.11" width="16.22" height="12.45" fill="#d0d0d0"/>
<rect x="154.44" y="267.11" width="14.22" height="10.45" fill="none" stroke="#efefef" stroke-width="1"/>
<rect x="169.66" y="266.11" width="16.22" height="12.45" fill="#d0d0d0"/>
<rect x="170.66" y="267.11" width="14.22" height="10.45" fill="none" stroke="#efefef" stroke-width="1"/>
<rect x="185.88" y="266.11" width="16.22" height="12.45" fill="#d0d0d0"/>
<rect x="186.88" y="267.11" width="14.22" height="10.45" fill="none" stroke="#efefef" stroke-width="1"/>
<rect x="218.31" y="266.11" width="16.22" height="12.45" fill="#d0d0d0"/>
<rect x="219.31" y="267.11" width="14.22" height="10.45" fill="none" stroke="#efefef" stroke-width="1"/>
<rect x="266.97" y="266.11" width="16.22" height="12.45" fill="#4a90d9"/>
<rect x="267.97" y="267.11" width="14.22" height="10.45" fill="none" stroke="#55a6fa" stroke-width="1"/>
<rect x="283.19" y="266.11" width="16.22" height="12.45" fill="#d0d0d0"/>
<rect x="284.19" y="267.11" width="14.22" height="10.45" fill="none" stroke="#efefef" stroke-width="1"/>
<rect x="121.00" y="278.55" width="16.22" height="12.45" fill="#d0d0d0"/>
<rect x="122.00" y="279.55" width="14.22" height="10.45" fill="none" stroke="#efefef" stroke-width="1"/>
<rect x="137.22" y="278.55" width="16.22" height="12.45" fill="#d0d0d0"/>
<rect x="138.22" y="279.55" width="14.22" height="10.45" fill="none" stroke="#efefef" stroke-width="1"/>
<rect x="153.44" y="278.55" width="16.22" height="12.45" fill="#d0d0d0"/>
<rect x="154.44" y="279.55" width="14.22" height="10.45" fill="none" stroke="#efefef" stroke-width="1"/>
<rect x="169.66" y="278.55" width="16.22" height="12.45" fill="#d0d0d0"/>
<rect x="170.66" y="279.55" width="14.22" height="10.45" fill="none" stroke="#efefef" stroke-width="1"/>
<rect x="185.88" y="278.55" width="16.22" height="12.45" fill="#d0d0d0"/>
<rect x="186.88" y="279.55" width="14.22" height="10.45" fill="none" stroke="#efefef" stroke-width="1"/>
<rect x="218.31" y="278.55" width="16.22" height="12.45" fill="#d0d0d0"/>
<rect x="219.31" y="279.55" width="14.22" height="10.45" fill="none" stroke="#efefef" stroke-width="1"/>
<rect x="266.97" y="278.55" width="16.22" height="12.45" fill="#4a90d9"/>
<rect x="267.97" y="279.55" width="14.22" height="10.45" fill="none" stroke="#55a6fa" stroke-width="1"/>
<rect x="283.19" y="278.55" width="16.22" height="12.45" fill="#d0d0d0"/>
<rect x="284.19" y="279.55" width="14.22" height="10.45" fill="none" stroke="#efefef" stroke-width="1"/>
<line x1="120.50" y1="79.40" x2="381.00" y2="79.40" stroke="#000" stroke-width="1.0"/>
<line x1="120.50" y1="91.85" x2="381.00" y2="91.85" stroke="#000" stroke-width="1.0"/>
<line x1="120.50" y1="104.29" x2="381.00" y2="104.29" stroke="#000" stroke-width="1.0"/>
<line x1="120.50" y1="116.74" x2="381.00" y2="116.74" stroke="#000" stroke-width="1.0"/>
<line x1="120.50" y1="129.19" x2="381.00" y2="129.19" stroke="#000" stroke-width="1.0"/>
<line x1="120.50" y1="141.64" x2="381.00" y2="141.64" stroke="#000" stroke-width="1.0"/>
<line x1="120.50" y1="154.08" x2="381.00" y2="154.08" stroke="#000" stroke-width="1.0"/>
<line x1="120.50" y1="166.53" x2="381.00" y2="166.53" stroke="#000" stroke-width="1.0"/>
<line x1="120.50" y1="178.98" x2="381.00" y2="178.98" stroke="#000" stroke-width="1.0"/>
<line x1="120.50" y1="191.42" x2="381.00" y2="191.42" stroke="#000" stroke-width="1.0"/>
<line x1="120.50" y1="203.87" x2="381.00" y2="203.87" stroke="#000" stroke-width="1.0"/>
<line x1="120.50" y1="216.32" x2="381.00" y2="216.32" stroke="#000" stroke-width="1.0"/>
<line x1="120.50" y1="228.76" x2="381.00" y2="228.76" stroke="#000" stroke-width="1.0"/>
<line x1="120.50" y1="241.21" x2="381.00" y2="241.21" stroke="#000" stroke-width="1.0"/>
<line x1="120.50" y1="253.66" x2="381.00" y2="253.66" stroke="#000" stroke-width="1.0"/>
<line x1="120.50" y1="266.11" x2="381.00" y2="266.11" stroke="#000" stroke-width="1.0"/>
<line x1="120.50" y1="278.55" x2="381.00" y2="278.55" stroke="#000" stroke-width="1.0"/>
<line x1="120.50" y1="291.00" x2="381.00" y2="291.00" stroke="#000" stroke-width="1.0"/>
<line x1="121.00" y1="79.40" x2="121.00" y2="291.00" stroke="#000" stroke-width="1.0"/>
<line x1="137.22" y1="79.40" x2="137.22" y2="291.00" stroke="#000" stroke-width="1.0"/>
<line x1="153.44" y1="79.40" x2="153.44" y2="291.00" stroke="#000" stroke-width="1.0"/>
<line x1="169.66" y1="79.40" x2="169.66" y2="291.00" stroke="#000" stroke-width="1.0"/>
<line x1="185.88" y1="79.40" x2="185.88" y2="291.00" stroke="#000" stroke-width="1.0"/>
<line x1="202.09" y1="79.40" x2="202.09" y2="291.00" stroke="#000" stroke-width="1.0"/>
<line x1="218.31" y1="79.40" x2="218.31" y2="291.00" stroke="#000" stroke-width="1.0"/>
<line x1="234.53" y1="79.40" x2="234.53" y2="291.00" stroke="#000" stroke-width="1.0"/>
<line x1="250.75" y1="79.40" x2="250.75" y2="291.00" stroke="#000" stroke-width="1.0"/>
<line x1="266.97" y1="79.40" x2="266.97" y2="291.00" stroke="#000" stroke-width="1.0"/>
<line x1="283.19" y1="79.40" x2="283.19" y2="291.00" stroke="#000" stroke-width="1.0"/>
<line x1="299.41" y1="79.40" x2="299.41" y2="291.00" stroke="#000" stroke-width="1.0"/>
<line x1="315.62" y1="79.40" x2="315.62" y2="291.00" stroke="#000" stroke-width="1.0"/>
<line x1="331.84" y1="79.40" x2="331.84" y2="291.00" stroke="#000" stroke-width="1.0"/>
<line x1="348.06" y1="79.40" x2="348.06" y2="291.00" stroke="#000" stroke-width="1.0"/>
<line x1="364.28" y1="79.40" x2="364.28" y2="291.00" stroke="#000" stroke-width="1.0"/>
<line x1="380.50" y1="79.40" x2="380.50" y2="291.00" stroke="#000" stroke-width="1.0"/>
<rect x="217.81" y="78.90" width="17.22" height="13.45" fill="#000000"/>
<rect x="234.03" y="78.90" width="17.22" height="13.45" fill="#000000"/>
<rect x="250.25" y="78.90" width="17.22" height="13.45" fill="#000000"/>
<rect x="266.47" y="78.90" width="17.22" height="13.45" fill="#000000"/>
<rect x="282.69" y="78.90" width="17.22" height="13.45" fill="#000000"/>
<rect x="298.91" y="78.90" width="17.22" height="13.45" fill="#000000"/>
<rect x="315.12" y="78.90" width="17.22" height="13.45" fill="#000000"/>
<rect x="331.34" y="78.90" width="17.22" height="13.45" fill="#000000"/>
<rect x="347.56" y="78.90" width="17.22" height="13.45" fill="#000000"/>
<text transform="translate(118.40,88.32) scale(0.825,1)" font-size="8.25" text-anchor="end" font-weight="bold" font-style="italic">IDH 1/2</text>
<text transform="translate(118.40,100.77) scale(0.825,1)" font-size="8.25" text-anchor="end" font-weight="bold" font-style="italic">MGMT</text>
<text transform="translate(118.40,113.22) scale(0.825,1)" font-size="8.25" text-anchor="end" font-weight="bold" font-style="italic">TP53</text>
<text transform="translate(118.40,125.66) scale(0.825,1)" font-size="8.25" text-anchor="end" font-weight="bold" font-style="italic">ATRX</text>
<text transform="translate(118.40,138.11) scale(0.825,1)" font-size="8.25" text-anchor="end" font-weight="bold" font-style="italic">PTEN</text>
<text transform="translate(118.40,150.56) scale(0.825,1)" font-size="8.25" text-anchor="end" font-weight="bold" font-style="italic">TERT</text>
<text transform="translate(118.40,163.01) scale(0.825,1)" font-size="8.25" text-anchor="end" font-weight="bold" font-style="italic">NF1</text>
<text transform="translate(118.40,175.45) scale(0.825,1)" font-size="8.25" text-anchor="end" font-weight="bold" font-style="italic">RB1</text>
<text transform="translate(118.40,187.90) scale(0.825,1)" font-size="8.25" text-anchor="end" font-weight="bold" font-style="italic">BRAF V600E</text>
<text transform="translate(118.40,200.35) scale(0.825,1)" font-size="8.25" text-anchor="end" font-weight="bold" font-style="italic">PIK3CA</text>
<text transform="translate(118.40,212.79) scale(0.825,1)" font-size="8.25" text-anchor="end" font-weight="bold" font-style="italic">H3K27M</text>
<text transform="translate(118.40,225.24) scale(0.825,1)" font-size="8.25" text-anchor="end" font-weight="bold" font-style="italic">SETD2</text>
<text transform="translate(118.40,237.69) scale(0.825,1)" font-size="8.25" text-anchor="end" font-weight="bold" font-style="italic">CDKN1A/B</text>
<text transform="translate(118.40,250.14) scale(0.825,1)" font-size="8.25" text-anchor="end" font-weight="bold" font-style="italic">PDGFRA</text>
<text transform="translate(118.40,262.58) scale(0.825,1)" font-size="8.25" text-anchor="end" font-weight="bold" font-style="italic">EGFR</text>
<text transform="translate(118.40,275.03) scale(0.825,1)" font-size="8.25" text-anchor="end" font-weight="bold" font-style="italic">CDK4</text>
<text transform="translate(118.40,287.48) scale(0.825,1)" font-size="8.25" text-anchor="end" font-weight="bold" font-style="italic">MYC</text>
<rect x="121.00" y="296.50" width="16.22" height="12.60" fill="#1f4068"/>
<rect x="122.00" y="297.50" width="14.22" height="10.60" fill="none" stroke="#244a78" stroke-width="1"/>
<rect x="137.22" y="296.50" width="16.22" height="12.60" fill="#1f4068"/>
<rect x="138.22" y="297.50" width="14.22" height="10.60" fill="none" stroke="#244a78" stroke-width="1"/>
<rect x="153.44" y="296.50" width="16.22" height="12.60" fill="#c00000"/>
<rect x="154.44" y="297.50" width="14.22" height="10.60" fill="none" stroke="#dd0000" stroke-width="1"/>
<rect x="185.88" y="296.50" width="16.22" height="12.60" fill="#1f4068"/>
<rect x="186.88" y="297.50" width="14.22" height="10.60" fill="none" stroke="#244a78" stroke-width="1"/>
<rect x="202.09" y="296.50" width="16.22" height="12.60" fill="#c00000"/>
<rect x="203.09" y="297.50" width="14.22" height="10.60" fill="none" stroke="#dd0000" stroke-width="1"/>
<rect x="218.31" y="296.50" width="16.22" height="12.60" fill="#1f4068"/>
<rect x="219.31" y="297.50" width="14.22" height="10.60" fill="none" stroke="#244a78" stroke-width="1"/>
<rect x="234.53" y="296.50" width="16.22" height="12.60" fill="#1f4068"/>
<rect x="235.53" y="297.50" width="14.22" height="10.60" fill="none" stroke="#244a78" stroke-width="1"/>
<rect x="250.75" y="296.50" width="16.22" height="12.60" fill="#c00000"/>
<rect x="251.75" y="297.50" width="14.22" height="10.60" fill="none" stroke="#dd0000" stroke-width="1"/>
<rect x="266.97" y="296.50" width="16.22" height="12.60" fill="#c00000"/>
<rect x="267.97" y="297.50" width="14.22" height="10.60" fill="none" stroke="#dd0000" stroke-width="1"/>
<rect x="283.19" y="296.50" width="16.22" height="12.60" fill="#1f4068"/>
<rect x="284.19" y="297.50" width="14.22" height="10.60" fill="none" stroke="#244a78" stroke-width="1"/>
<rect x="299.41" y="296.50" width="16.22" height="12.60" fill="#c00000"/>
<rect x="300.41" y="297.50" width="14.22" height="10.60" fill="none" stroke="#dd0000" stroke-width="1"/>
<rect x="315.62" y="296.50" width="16.22" height="12.60" fill="#c00000"/>
<rect x="316.62" y="297.50" width="14.22" height="10.60" fill="none" stroke="#dd0000" stroke-width="1"/>
<rect x="331.84" y="296.50" width="16.22" height="12.60" fill="#c00000"/>
<rect x="332.84" y="297.50" width="14.22" height="10.60" fill="none" stroke="#dd0000" stroke-width="1"/>
<rect x="348.06" y="296.50" width="16.22" height="12.60" fill="#a02b93"/>
<rect x="349.06" y="297.50" width="14.22" height="10.60" fill="none" stroke="#b831a9" stroke-width="1"/>
<rect x="364.28" y="296.50" width="16.22" height="12.60" fill="#c00000"/>
<rect x="365.28" y="297.50" width="14.22" height="10.60" fill="none" stroke="#dd0000" stroke-width="1"/>
<line x1="120.50" y1="296.50" x2="381.00" y2="296.50" stroke="#000" stroke-width="1.0"/>
<line x1="120.50" y1="309.10" x2="381.00" y2="309.10" stroke="#000" stroke-width="1.0"/>
<line x1="121.00" y1="296.50" x2="121.00" y2="309.10" stroke="#000" stroke-width="1.0"/>
<line x1="137.22" y1="296.50" x2="137.22" y2="309.10" stroke="#000" stroke-width="1.0"/>
<line x1="153.44" y1="296.50" x2="153.44" y2="309.10" stroke="#000" stroke-width="1.0"/>
<line x1="169.66" y1="296.50" x2="169.66" y2="309.10" stroke="#000" stroke-width="1.0"/>
<line x1="185.88" y1="296.50" x2="185.88" y2="309.10" stroke="#000" stroke-width="1.0"/>
<line x1="202.09" y1="296.50" x2="202.09" y2="309.10" stroke="#000" stroke-width="1.0"/>
<line x1="218.31" y1="296.50" x2="218.31" y2="309.10" stroke="#000" stroke-width="1.0"/>
<line x1="234.53" y1="296.50" x2="234.53" y2="309.10" stroke="#000" stroke-width="1.0"/>
<line x1="250.75" y1="296.50" x2="250.75" y2="309.10" stroke="#000" stroke-width="1.0"/>
<line x1="266.97" y1="296.50" x2="266.97" y2="309.10" stroke="#000" stroke-width="1.0"/>
<line x1="283.19" y1="296.50" x2="283.19" y2="309.10" stroke="#000" stroke-width="1.0"/>
<line x1="299.41" y1="296.50" x2="299.41" y2="309.10" stroke="#000" stroke-width="1.0"/>
<line x1="315.62" y1="296.50" x2="315.62" y2="309.10" stroke="#000" stroke-width="1.0"/>
<line x1="331.84" y1="296.50" x2="331.84" y2="309.10" stroke="#000" stroke-width="1.0"/>
<line x1="348.06" y1="296.50" x2="348.06" y2="309.10" stroke="#000" stroke-width="1.0"/>
<line x1="364.28" y1="296.50" x2="364.28" y2="309.10" stroke="#000" stroke-width="1.0"/>
<line x1="380.50" y1="296.50" x2="380.50" y2="309.10" stroke="#000" stroke-width="1.0"/>
<text transform="translate(119.40,306.10) scale(0.825,1)" font-size="8.25" text-anchor="end" font-weight="bold">CT and RT</text>
<rect x="121.00" y="458.65" width="16.22" height="12.35" fill="#1c648a"/>
<rect x="122.00" y="459.65" width="14.22" height="10.35" fill="none" stroke="#20739f" stroke-width="1"/>
<rect x="137.22" y="458.65" width="16.22" height="12.35" fill="#1c648a"/>
<rect x="138.22" y="459.65" width="14.22" height="10.35" fill="none" stroke="#20739f" stroke-width="1"/>
<rect x="153.44" y="458.65" width="16.22" height="12.35" fill="#e2e2e2"/>
<rect x="154.44" y="459.65" width="14.22" height="10.35" fill="none" stroke="#ffffff" stroke-width="1"/>
<rect x="169.66" y="458.65" width="16.22" height="12.35" fill="#ff0000"/>
<rect x="185.88" y="458.65" width="16.22" height="12.35" fill="#4bd05c"/>
<rect x="186.88" y="459.65" width="14.22" height="10.35" fill="none" stroke="#56ef6a" stroke-width="1"/>
<rect x="202.09" y="458.65" width="16.22" height="12.35" fill="#1c648a"/>
<rect x="203.09" y="459.65" width="14.22" height="10.35" fill="none" stroke="#20739f" stroke-width="1"/>
<rect x="218.31" y="458.65" width="16.22" height="12.35" fill="#4bd05c"/>
<rect x="219.31" y="459.65" width="14.22" height="10.35" fill="none" stroke="#56ef6a" stroke-width="1"/>
<rect x="234.53" y="458.65" width="16.22" height="12.35" fill="#ff0000"/>
<rect x="250.75" y="458.65" width="16.22" height="12.35" fill="#1c648a"/>
<rect x="251.75" y="459.65" width="14.22" height="10.35" fill="none" stroke="#20739f" stroke-width="1"/>
<rect x="266.97" y="458.65" width="16.22" height="12.35" fill="#ff0000"/>
<rect x="283.19" y="458.65" width="16.22" height="12.35" fill="#1c648a"/>
<rect x="284.19" y="459.65" width="14.22" height="10.35" fill="none" stroke="#20739f" stroke-width="1"/>
<line x1="120.50" y1="321.65" x2="381.00" y2="321.65" stroke="#000" stroke-width="1.0"/>
<line x1="120.50" y1="334.05" x2="381.00" y2="334.05" stroke="#000" stroke-width="1.0"/>
<line x1="120.50" y1="346.50" x2="381.00" y2="346.50" stroke="#000" stroke-width="1.0"/>
<line x1="120.50" y1="359.20" x2="381.00" y2="359.20" stroke="#000" stroke-width="1.0"/>
<line x1="120.50" y1="371.65" x2="381.00" y2="371.65" stroke="#000" stroke-width="1.0"/>
<line x1="120.50" y1="384.10" x2="381.00" y2="384.10" stroke="#000" stroke-width="1.0"/>
<line x1="120.50" y1="396.70" x2="381.00" y2="396.70" stroke="#000" stroke-width="1.0"/>
<line x1="120.50" y1="409.10" x2="381.00" y2="409.10" stroke="#000" stroke-width="1.0"/>
<line x1="120.50" y1="421.50" x2="381.00" y2="421.50" stroke="#000" stroke-width="1.0"/>
<line x1="120.50" y1="433.90" x2="381.00" y2="433.90" stroke="#000" stroke-width="1.0"/>
<line x1="120.50" y1="446.30" x2="381.00" y2="446.30" stroke="#000" stroke-width="1.0"/>
<line x1="120.50" y1="458.65" x2="381.00" y2="458.65" stroke="#000" stroke-width="1.0"/>
<line x1="120.50" y1="471.00" x2="381.00" y2="471.00" stroke="#000" stroke-width="1.0"/>
<line x1="121.00" y1="321.65" x2="121.00" y2="471.00" stroke="#000" stroke-width="1.0"/>
<line x1="137.22" y1="321.65" x2="137.22" y2="471.00" stroke="#000" stroke-width="1.0"/>
<line x1="153.44" y1="321.65" x2="153.44" y2="471.00" stroke="#000" stroke-width="1.0"/>
<line x1="169.66" y1="321.65" x2="169.66" y2="471.00" stroke="#000" stroke-width="1.0"/>
<line x1="185.88" y1="321.65" x2="185.88" y2="471.00" stroke="#000" stroke-width="1.0"/>
<line x1="202.09" y1="321.65" x2="202.09" y2="471.00" stroke="#000" stroke-width="1.0"/>
<line x1="218.31" y1="321.65" x2="218.31" y2="471.00" stroke="#000" stroke-width="1.0"/>
<line x1="234.53" y1="321.65" x2="234.53" y2="471.00" stroke="#000" stroke-width="1.0"/>
<line x1="250.75" y1="321.65" x2="250.75" y2="471.00" stroke="#000" stroke-width="1.0"/>
<line x1="266.97" y1="321.65" x2="266.97" y2="471.00" stroke="#000" stroke-width="1.0"/>
<line x1="283.19" y1="321.65" x2="283.19" y2="471.00" stroke="#000" stroke-width="1.0"/>
<line x1="299.41" y1="321.65" x2="299.41" y2="471.00" stroke="#000" stroke-width="1.0"/>
<line x1="315.62" y1="321.65" x2="315.62" y2="471.00" stroke="#000" stroke-width="1.0"/>
<line x1="331.84" y1="321.65" x2="331.84" y2="471.00" stroke="#000" stroke-width="1.0"/>
<line x1="348.06" y1="321.65" x2="348.06" y2="471.00" stroke="#000" stroke-width="1.0"/>
<line x1="364.28" y1="321.65" x2="364.28" y2="471.00" stroke="#000" stroke-width="1.0"/>
<line x1="380.50" y1="321.65" x2="380.50" y2="471.00" stroke="#000" stroke-width="1.0"/>
<text transform="translate(129.11,330.85) scale(0.825,1)" font-size="8.25" text-anchor="middle" font-weight="bold">25</text>
<text transform="translate(145.33,330.85) scale(0.825,1)" font-size="8.25" text-anchor="middle" font-weight="bold">51</text>
<text transform="translate(161.55,330.85) scale(0.825,1)" font-size="8.25" text-anchor="middle" font-weight="bold">20</text>
<text transform="translate(177.77,330.85) scale(0.825,1)" font-size="8.25" text-anchor="middle" font-weight="bold">20</text>
<text transform="translate(193.98,330.85) scale(0.825,1)" font-size="8.25" text-anchor="middle" font-weight="bold">38</text>
<text transform="translate(210.20,330.85) scale(0.825,1)" font-size="8.25" text-anchor="middle" font-weight="bold">31</text>
<text transform="translate(226.42,330.85) scale(0.825,1)" font-size="8.25" text-anchor="middle" font-weight="bold">48</text>
<text transform="translate(242.64,330.85) scale(0.825,1)" font-size="8.25" text-anchor="middle" font-weight="bold">72</text>
<text transform="translate(258.86,330.85) scale(0.825,1)" font-size="8.25" text-anchor="middle" font-weight="bold">61</text>
<text transform="translate(275.08,330.85) scale(0.825,1)" font-size="8.25" text-anchor="middle" font-weight="bold">26</text>
<text transform="translate(291.30,330.85) scale(0.825,1)" font-size="8.25" text-anchor="middle" font-weight="bold">54</text>
<text transform="translate(307.52,330.85) scale(0.825,1)" font-size="8.25" text-anchor="middle" font-weight="bold">72</text>
<text transform="translate(323.73,330.85) scale(0.825,1)" font-size="8.25" text-anchor="middle" font-weight="bold">27</text>
<text transform="translate(339.95,330.85) scale(0.825,1)" font-size="8.25" text-anchor="middle" font-weight="bold">34</text>
<text transform="translate(356.17,330.85) scale(0.825,1)" font-size="8.25" text-anchor="middle" font-weight="bold">22</text>
<text transform="translate(372.39,330.85) scale(0.825,1)" font-size="8.25" text-anchor="middle" font-weight="bold">36</text>
<text transform="translate(119.40,331.15) scale(0.825,1)" font-size="8.25" text-anchor="end" font-weight="bold">Age at ECM (years)</text>
<text transform="translate(129.11,343.27) scale(0.825,1)" font-size="8.25" text-anchor="middle" font-weight="bold">6.5</text>
<text transform="translate(145.33,343.27) scale(0.825,1)" font-size="8.25" text-anchor="middle" font-weight="bold">4.1</text>
<text transform="translate(161.55,343.27) scale(0.825,1)" font-size="8.25" text-anchor="middle" font-weight="bold">4.1</text>
<text transform="translate(177.77,343.27) scale(0.825,1)" font-size="8.25" text-anchor="middle" font-weight="bold">34</text>
<text transform="translate(193.98,343.27) scale(0.825,1)" font-size="8.25" text-anchor="middle" font-weight="bold">11</text>
<text transform="translate(210.20,343.27) scale(0.825,1)" font-size="8.25" text-anchor="middle" font-weight="bold">4.8</text>
<text transform="translate(226.42,343.27) scale(0.825,1)" font-size="8.25" text-anchor="middle" font-weight="bold">5.1</text>
<text transform="translate(242.64,343.27) scale(0.825,1)" font-size="8.25" text-anchor="middle" font-weight="bold">7.7</text>
<text transform="translate(258.86,343.27) scale(0.825,1)" font-size="8.25" text-anchor="middle" font-weight="bold">17</text>
<text transform="translate(275.08,343.27) scale(0.825,1)" font-size="8.25" text-anchor="middle" font-weight="bold">7.8</text>
<text transform="translate(291.30,343.27) scale(0.825,1)" font-size="8.25" text-anchor="middle" font-weight="bold">9.2</text>
<text transform="translate(307.52,343.27) scale(0.825,1)" font-size="8.25" text-anchor="middle" font-weight="bold">13</text>
<text transform="translate(323.73,343.27) scale(0.825,1)" font-size="8.25" text-anchor="middle" font-weight="bold">12</text>
<text transform="translate(339.95,343.27) scale(0.825,1)" font-size="8.25" text-anchor="middle" font-weight="bold">20</text>
<text transform="translate(356.17,343.27) scale(0.825,1)" font-size="8.25" text-anchor="middle" font-weight="bold">7.4</text>
<text transform="translate(372.39,343.27) scale(0.825,1)" font-size="8.25" text-anchor="middle" font-weight="bold">15</text>
<text transform="translate(119.40,343.57) scale(0.825,1)" font-size="8.25" text-anchor="end" font-weight="bold">Time to ECM (mos)</text>
<text x="142.98" y="356.12" font-size="8.2" class="ck">✓</text>
<text x="175.42" y="356.12" font-size="8.2" class="ck">✓</text>
<text x="240.29" y="356.12" font-size="8.2" class="ck">✓</text>
<text x="272.73" y="356.12" font-size="8.2" class="ck">✓</text>
<text x="321.39" y="356.12" font-size="8.2" class="ck">✓</text>
<text x="353.82" y="356.12" font-size="8.2" class="ck">✓</text>
<text transform="translate(119.40,356.15) scale(0.825,1)" font-size="8.25" text-anchor="end" font-weight="bold">Bone</text>
<text x="321.39" y="368.70" font-size="8.2" class="ck">✓</text>
<text transform="translate(119.40,368.72) scale(0.825,1)" font-size="8.25" text-anchor="end" font-weight="bold">Duodenum</text>
<text x="126.76" y="381.15" font-size="8.2" class="ck">✓</text>
<text x="337.61" y="381.15" font-size="8.2" class="ck">✓</text>
<text transform="translate(119.40,381.18) scale(0.825,1)" font-size="8.25" text-anchor="end" font-weight="bold">Extracranial HGG invasion</text>
<text x="321.39" y="393.67" font-size="8.2" class="ck">✓</text>
<text transform="translate(119.40,393.70) scale(0.825,1)" font-size="8.25" text-anchor="end" font-weight="bold">Liver</text>
<text x="159.20" y="406.17" font-size="8.2" class="ck">✓</text>
<text x="191.64" y="406.17" font-size="8.2" class="ck">✓</text>
<text x="321.39" y="406.17" font-size="8.2" class="ck">✓</text>
<text transform="translate(119.40,406.20) scale(0.825,1)" font-size="8.25" text-anchor="end" font-weight="bold">Lungs</text>
<text x="126.76" y="418.57" font-size="8.2" class="ck">✓</text>
<text x="142.98" y="418.57" font-size="8.2" class="ck">✓</text>
<text x="207.86" y="418.57" font-size="8.2" class="ck">✓</text>
<text x="256.51" y="418.57" font-size="8.2" class="ck">✓</text>
<text x="288.95" y="418.57" font-size="8.2" class="ck">✓</text>
<text x="321.39" y="418.57" font-size="8.2" class="ck">✓</text>
<text x="337.61" y="418.57" font-size="8.2" class="ck">✓</text>
<text transform="translate(119.40,418.60) scale(0.825,1)" font-size="8.25" text-anchor="end" font-weight="bold">Lymph nodes</text>
<text x="126.76" y="430.97" font-size="8.2" class="ck">✓</text>
<text x="191.64" y="430.97" font-size="8.2" class="ck">✓</text>
<text transform="translate(119.40,431.00) scale(0.825,1)" font-size="8.25" text-anchor="end" font-weight="bold">Orbit</text>
<text x="126.76" y="443.38" font-size="8.2" class="ck">✓</text>
<text x="207.86" y="443.38" font-size="8.2" class="ck">✓</text>
<text x="288.95" y="443.38" font-size="8.2" class="ck">✓</text>
<text x="305.17" y="443.38" font-size="8.2" class="ck">✓</text>
<text x="321.39" y="443.38" font-size="8.2" class="ck">✓</text>
<text transform="translate(119.40,443.40) scale(0.825,1)" font-size="8.25" text-anchor="end" font-weight="bold">Parotid gland</text>
<text x="126.76" y="455.75" font-size="8.2" class="ck">✓</text>
<text x="191.64" y="455.75" font-size="8.2" class="ck">✓</text>
<text x="224.07" y="455.75" font-size="8.2" class="ck">✓</text>
<text x="321.39" y="455.75" font-size="8.2" class="ck">✓</text>
<text x="370.04" y="455.75" font-size="8.2" class="ck">✓</text>
<text transform="translate(119.40,455.78) scale(0.825,1)" font-size="8.25" text-anchor="end" font-weight="bold">Soft tissues</text>
<text transform="translate(119.40,468.12) scale(0.825,1)" font-size="8.25" text-anchor="end" font-weight="bold">Clinical presentation</text>
<line x1="120.50" y1="477.10" x2="381.00" y2="477.10" stroke="#000" stroke-width="1.0"/>
<line x1="120.50" y1="488.30" x2="381.00" y2="488.30" stroke="#000" stroke-width="1.0"/>
<line x1="120.50" y1="500.30" x2="381.00" y2="500.30" stroke="#000" stroke-width="1.0"/>
<line x1="120.50" y1="512.10" x2="381.00" y2="512.10" stroke="#000" stroke-width="1.0"/>
<line x1="120.50" y1="524.30" x2="381.00" y2="524.30" stroke="#000" stroke-width="1.0"/>
<line x1="121.00" y1="477.10" x2="121.00" y2="524.30" stroke="#000" stroke-width="1.0"/>
<line x1="137.22" y1="477.10" x2="137.22" y2="524.30" stroke="#000" stroke-width="1.0"/>
<line x1="153.44" y1="477.10" x2="153.44" y2="524.30" stroke="#000" stroke-width="1.0"/>
<line x1="169.66" y1="477.10" x2="169.66" y2="524.30" stroke="#000" stroke-width="1.0"/>
<line x1="185.88" y1="477.10" x2="185.88" y2="524.30" stroke="#000" stroke-width="1.0"/>
<line x1="202.09" y1="477.10" x2="202.09" y2="524.30" stroke="#000" stroke-width="1.0"/>
<line x1="218.31" y1="477.10" x2="218.31" y2="524.30" stroke="#000" stroke-width="1.0"/>
<line x1="234.53" y1="477.10" x2="234.53" y2="524.30" stroke="#000" stroke-width="1.0"/>
<line x1="250.75" y1="477.10" x2="250.75" y2="524.30" stroke="#000" stroke-width="1.0"/>
<line x1="266.97" y1="477.10" x2="266.97" y2="524.30" stroke="#000" stroke-width="1.0"/>
<line x1="283.19" y1="477.10" x2="283.19" y2="524.30" stroke="#000" stroke-width="1.0"/>
<line x1="299.41" y1="477.10" x2="299.41" y2="524.30" stroke="#000" stroke-width="1.0"/>
<line x1="315.62" y1="477.10" x2="315.62" y2="524.30" stroke="#000" stroke-width="1.0"/>
<line x1="331.84" y1="477.10" x2="331.84" y2="524.30" stroke="#000" stroke-width="1.0"/>
<line x1="348.06" y1="477.10" x2="348.06" y2="524.30" stroke="#000" stroke-width="1.0"/>
<line x1="364.28" y1="477.10" x2="364.28" y2="524.30" stroke="#000" stroke-width="1.0"/>
<line x1="380.50" y1="477.10" x2="380.50" y2="524.30" stroke="#000" stroke-width="1.0"/>
<text x="126.76" y="485.98" font-size="8.2" class="ck">✓</text>
<text x="142.98" y="485.98" font-size="8.2" class="ck">✓</text>
<text x="159.20" y="485.98" font-size="8.2" class="ck">✓</text>
<text x="207.86" y="485.98" font-size="8.2" class="ck">✓</text>
<text x="240.29" y="485.98" font-size="8.2" class="ck">✓</text>
<text x="256.51" y="485.98" font-size="8.2" class="ck">✓</text>
<text x="288.95" y="485.98" font-size="8.2" class="ck">✓</text>
<text x="305.17" y="485.98" font-size="8.2" class="ck">✓</text>
<text x="321.39" y="485.98" font-size="8.2" class="ck">✓</text>
<text x="353.82" y="485.98" font-size="8.2" class="ck">✓</text>
<text transform="translate(119.40,486.00) scale(0.825,1)" font-size="8.25" text-anchor="end" font-weight="bold">Biopsy / FNA</text>
<text x="126.76" y="497.57" font-size="8.2" class="ck">✓</text>
<text x="159.20" y="497.57" font-size="8.2" class="ck">✓</text>
<text x="272.73" y="497.57" font-size="8.2" class="ck">✓</text>
<text x="321.39" y="497.57" font-size="8.2" class="ck">✓</text>
<text transform="translate(119.40,497.60) scale(0.825,1)" font-size="8.25" text-anchor="end" font-weight="bold">Resection</text>
<text x="126.76" y="509.48" font-size="8.2" class="ck">✓</text>
<text x="142.98" y="509.48" font-size="8.2" class="ck">✓</text>
<text x="224.07" y="509.48" font-size="8.2" class="ck">✓</text>
<text x="256.51" y="509.48" font-size="8.2" class="ck">✓</text>
<text x="305.17" y="509.48" font-size="8.2" class="ck">✓</text>
<text x="321.39" y="509.48" font-size="8.2" class="ck">✓</text>
<text x="337.61" y="509.48" font-size="8.2" class="ck">✓</text>
<text x="370.04" y="509.48" font-size="8.2" class="ck">✓</text>
<text transform="translate(119.40,509.50) scale(0.825,1)" font-size="8.25" text-anchor="end" font-weight="bold">RT</text>
<text x="126.76" y="521.48" font-size="8.2" class="ck">✓</text>
<text x="256.51" y="521.48" font-size="8.2" class="ck">✓</text>
<text x="305.17" y="521.48" font-size="8.2" class="ck">✓</text>
<text x="321.39" y="521.48" font-size="8.2" class="ck">✓</text>
<text x="353.82" y="521.48" font-size="8.2" class="ck">✓</text>
<text x="370.04" y="521.48" font-size="8.2" class="ck">✓</text>
<text transform="translate(119.40,521.50) scale(0.825,1)" font-size="8.25" text-anchor="end" font-weight="bold">Systemic therapy</text>
<rect x="169.66" y="530.60" width="16.22" height="12.40" fill="#ff0000"/>
<rect x="185.88" y="530.60" width="16.22" height="12.40" fill="#ff0000"/>
<rect x="218.31" y="530.60" width="16.22" height="12.40" fill="#ff0000"/>
<rect x="250.75" y="530.60" width="16.22" height="12.40" fill="#ff0000"/>
<rect x="266.97" y="530.60" width="16.22" height="12.40" fill="#ff0000"/>
<rect x="299.41" y="530.60" width="16.22" height="12.40" fill="#ff0000"/>
<rect x="331.84" y="530.60" width="16.22" height="12.40" fill="#ff0000"/>
<rect x="348.06" y="530.60" width="16.22" height="12.40" fill="#ff0000"/>
<rect x="121.00" y="543.00" width="16.22" height="12.30" fill="#1c648a"/>
<rect x="122.00" y="544.00" width="14.22" height="10.30" fill="none" stroke="#20739f" stroke-width="1"/>
<rect x="137.22" y="543.00" width="16.22" height="12.30" fill="#1c648a"/>
<rect x="138.22" y="544.00" width="14.22" height="10.30" fill="none" stroke="#20739f" stroke-width="1"/>
<rect x="153.44" y="543.00" width="16.22" height="12.30" fill="#1c648a"/>
<rect x="154.44" y="544.00" width="14.22" height="10.30" fill="none" stroke="#20739f" stroke-width="1"/>
<rect x="169.66" y="543.00" width="16.22" height="12.30" fill="#1c648a"/>
<rect x="170.66" y="544.00" width="14.22" height="10.30" fill="none" stroke="#20739f" stroke-width="1"/>
<rect x="185.88" y="543.00" width="16.22" height="12.30" fill="#1c648a"/>
<rect x="186.88" y="544.00" width="14.22" height="10.30" fill="none" stroke="#20739f" stroke-width="1"/>
<rect x="202.09" y="543.00" width="16.22" height="12.30" fill="#1c648a"/>
<rect x="203.09" y="544.00" width="14.22" height="10.30" fill="none" stroke="#20739f" stroke-width="1"/>
<rect x="234.53" y="543.00" width="16.22" height="12.30" fill="#1c648a"/>
<rect x="235.53" y="544.00" width="14.22" height="10.30" fill="none" stroke="#20739f" stroke-width="1"/>
<rect x="250.75" y="543.00" width="16.22" height="12.30" fill="#1c648a"/>
<rect x="251.75" y="544.00" width="14.22" height="10.30" fill="none" stroke="#20739f" stroke-width="1"/>
<rect x="266.97" y="543.00" width="16.22" height="12.30" fill="#1c648a"/>
<rect x="267.97" y="544.00" width="14.22" height="10.30" fill="none" stroke="#20739f" stroke-width="1"/>
<rect x="283.19" y="543.00" width="16.22" height="12.30" fill="#1c648a"/>
<rect x="284.19" y="544.00" width="14.22" height="10.30" fill="none" stroke="#20739f" stroke-width="1"/>
<line x1="120.50" y1="530.60" x2="381.00" y2="530.60" stroke="#000" stroke-width="1.0"/>
<line x1="120.50" y1="543.00" x2="381.00" y2="543.00" stroke="#000" stroke-width="1.0"/>
<line x1="120.50" y1="555.30" x2="381.00" y2="555.30" stroke="#000" stroke-width="1.0"/>
<line x1="120.50" y1="567.90" x2="381.00" y2="567.90" stroke="#000" stroke-width="1.0"/>
<line x1="120.50" y1="580.00" x2="381.00" y2="580.00" stroke="#000" stroke-width="1.0"/>
<line x1="121.00" y1="530.60" x2="121.00" y2="580.00" stroke="#000" stroke-width="1.0"/>
<line x1="137.22" y1="530.60" x2="137.22" y2="580.00" stroke="#000" stroke-width="1.0"/>
<line x1="153.44" y1="530.60" x2="153.44" y2="580.00" stroke="#000" stroke-width="1.0"/>
<line x1="169.66" y1="530.60" x2="169.66" y2="580.00" stroke="#000" stroke-width="1.0"/>
<line x1="185.88" y1="530.60" x2="185.88" y2="580.00" stroke="#000" stroke-width="1.0"/>
<line x1="202.09" y1="530.60" x2="202.09" y2="580.00" stroke="#000" stroke-width="1.0"/>
<line x1="218.31" y1="530.60" x2="218.31" y2="580.00" stroke="#000" stroke-width="1.0"/>
<line x1="234.53" y1="530.60" x2="234.53" y2="580.00" stroke="#000" stroke-width="1.0"/>
<line x1="250.75" y1="530.60" x2="250.75" y2="580.00" stroke="#000" stroke-width="1.0"/>
<line x1="266.97" y1="530.60" x2="266.97" y2="580.00" stroke="#000" stroke-width="1.0"/>
<line x1="283.19" y1="530.60" x2="283.19" y2="580.00" stroke="#000" stroke-width="1.0"/>
<line x1="299.41" y1="530.60" x2="299.41" y2="580.00" stroke="#000" stroke-width="1.0"/>
<line x1="315.62" y1="530.60" x2="315.62" y2="580.00" stroke="#000" stroke-width="1.0"/>
<line x1="331.84" y1="530.60" x2="331.84" y2="580.00" stroke="#000" stroke-width="1.0"/>
<line x1="348.06" y1="530.60" x2="348.06" y2="580.00" stroke="#000" stroke-width="1.0"/>
<line x1="364.28" y1="530.60" x2="364.28" y2="580.00" stroke="#000" stroke-width="1.0"/>
<line x1="380.50" y1="530.60" x2="380.50" y2="580.00" stroke="#000" stroke-width="1.0"/>
<text transform="translate(119.40,540.10) scale(0.825,1)" font-size="8.25" text-anchor="end" font-weight="bold">LMD</text>
<text transform="translate(119.40,552.45) scale(0.825,1)" font-size="8.25" text-anchor="end" font-weight="bold">Vital status</text>
<text transform="translate(129.11,565.10) scale(0.825,1)" font-size="8.25" text-anchor="middle" font-weight="bold">23</text>
<text transform="translate(145.33,565.10) scale(0.825,1)" font-size="8.25" text-anchor="middle" font-weight="bold">14</text>
<text transform="translate(161.55,565.10) scale(0.825,1)" font-size="8.25" text-anchor="middle" font-weight="bold">4.6</text>
<text transform="translate(177.77,565.10) scale(0.825,1)" font-size="8.25" text-anchor="middle" font-weight="bold">37</text>
<text transform="translate(193.98,565.10) scale(0.825,1)" font-size="8.25" text-anchor="middle" font-weight="bold">12</text>
<text transform="translate(210.20,565.10) scale(0.825,1)" font-size="8.25" text-anchor="middle" font-weight="bold">9.6</text>
<text transform="translate(226.42,565.10) scale(0.825,1)" font-size="8.25" text-anchor="middle" font-weight="bold">7.4</text>
<text transform="translate(242.64,565.10) scale(0.825,1)" font-size="8.25" text-anchor="middle" font-weight="bold">9.3</text>
<text transform="translate(258.86,565.10) scale(0.825,1)" font-size="8.25" text-anchor="middle" font-weight="bold">28</text>
<text transform="translate(275.08,565.10) scale(0.825,1)" font-size="8.25" text-anchor="middle" font-weight="bold">11</text>
<text transform="translate(291.30,565.10) scale(0.825,1)" font-size="8.25" text-anchor="middle" font-weight="bold">15</text>
<text transform="translate(307.52,565.10) scale(0.825,1)" font-size="8.25" text-anchor="middle" font-weight="bold">24</text>
<text transform="translate(323.73,565.10) scale(0.825,1)" font-size="8.25" text-anchor="middle" font-weight="bold">20</text>
<text transform="translate(339.95,565.10) scale(0.825,1)" font-size="8.25" text-anchor="middle" font-weight="bold">27</text>
<text transform="translate(356.17,565.10) scale(0.825,1)" font-size="8.25" text-anchor="middle" font-weight="bold">11</text>
<text transform="translate(372.39,565.10) scale(0.825,1)" font-size="8.25" text-anchor="middle" font-weight="bold">18</text>
<text transform="translate(119.40,564.90) scale(0.825,1)" font-size="8.25" text-anchor="end" font-weight="bold">OS from HGG dx (mos)</text>
<text transform="translate(129.11,577.45) scale(0.825,1)" font-size="8.25" text-anchor="middle" font-weight="bold">17</text>
<text transform="translate(145.33,577.45) scale(0.825,1)" font-size="8.25" text-anchor="middle" font-weight="bold">2.7</text>
<text transform="translate(161.55,577.45) scale(0.825,1)" font-size="8.25" text-anchor="middle" font-weight="bold">0.5</text>
<text transform="translate(177.77,577.45) scale(0.825,1)" font-size="8.25" text-anchor="middle" font-weight="bold">2.8</text>
<text transform="translate(193.98,577.45) scale(0.825,1)" font-size="8.25" text-anchor="middle" font-weight="bold">1.4</text>
<text transform="translate(210.20,577.45) scale(0.825,1)" font-size="8.25" text-anchor="middle" font-weight="bold">4.9</text>
<text transform="translate(226.42,577.45) scale(0.825,1)" font-size="8.25" text-anchor="middle" font-weight="bold">2.3</text>
<text transform="translate(242.64,577.45) scale(0.825,1)" font-size="8.25" text-anchor="middle" font-weight="bold">1.6</text>
<text transform="translate(258.86,577.45) scale(0.825,1)" font-size="8.25" text-anchor="middle" font-weight="bold">12</text>
<text transform="translate(275.08,577.45) scale(0.825,1)" font-size="8.25" text-anchor="middle" font-weight="bold">3.1</text>
<text transform="translate(291.30,577.45) scale(0.825,1)" font-size="8.25" text-anchor="middle" font-weight="bold">5.9</text>
<text transform="translate(307.52,577.45) scale(0.825,1)" font-size="8.25" text-anchor="middle" font-weight="bold">11</text>
<text transform="translate(323.73,577.45) scale(0.825,1)" font-size="8.25" text-anchor="middle" font-weight="bold">8.1</text>
<text transform="translate(339.95,577.45) scale(0.825,1)" font-size="8.25" text-anchor="middle" font-weight="bold">6.7</text>
<text transform="translate(356.17,577.45) scale(0.825,1)" font-size="8.25" text-anchor="middle" font-weight="bold">3.7</text>
<text transform="translate(372.39,577.45) scale(0.825,1)" font-size="8.25" text-anchor="middle" font-weight="bold">3.4</text>
<text transform="translate(119.40,577.25) scale(0.825,1)" font-size="8.25" text-anchor="end" font-weight="bold">OS from ECM dx (mos)</text>
<line x1="12.70" y1="24.00" x2="12.70" y2="309.90" stroke="#000" stroke-width="1.6"/>
<line x1="30.00" y1="78.70" x2="30.00" y2="291.80" stroke="#000" stroke-width="1.6"/>
<line x1="12.70" y1="322.00" x2="12.70" y2="524.80" stroke="#000" stroke-width="1.6"/>
<line x1="30.00" y1="346.70" x2="30.00" y2="458.70" stroke="#000" stroke-width="1.6"/>
<line x1="30.00" y1="477.20" x2="30.00" y2="524.80" stroke="#000" stroke-width="1.6"/>
<text transform="translate(7.30,166.60) rotate(-90) scale(1,1)" text-anchor="middle" font-size="8.5" font-weight="bold">Newly diagnosed HGG characteristics</text>
<text transform="translate(24.30,184.80) rotate(-90) scale(0.825,1)" text-anchor="middle" font-size="8.7" font-weight="bold">Somatic alterations</text>
<text transform="translate(7.30,423.20) rotate(-90) scale(1,1)" text-anchor="middle" font-size="8.5" font-weight="bold">ECM characteristics</text>
<text transform="translate(24.30,402.20) rotate(-90) scale(0.825,1)" text-anchor="middle" font-size="8.7" font-weight="bold">ECM site</text>
<text transform="translate(24.30,500.40) rotate(-90) scale(0.825,1)" text-anchor="middle" font-size="8.6" font-weight="bold">Management</text>
<rect x="396.00" y="88.80" width="288.60" height="402.30" fill="none" stroke="#000" stroke-width="1.3"/>
<text transform="translate(414.70,97.50) scale(0.825,1)" font-size="8.05" font-weight="bold">Legend</text>
<line x1="412.80" y1="106.30" x2="412.80" y2="308.50" stroke="#000" stroke-width="1.3"/>
<line x1="412.80" y1="326.40" x2="412.80" y2="483.50" stroke="#000" stroke-width="1.3"/>
<text transform="translate(406.40,208.20) rotate(-90) scale(0.825,1)" text-anchor="middle" font-size="8.0" font-weight="bold">Newly diagnosed high-grade glioma</text>
<text transform="translate(406.40,405.40) rotate(-90) scale(0.825,1)" text-anchor="middle" font-size="8.0" font-weight="bold">Extra-CNS metastasis</text>
<text transform="translate(432.70,114.10) scale(0.825,1)" font-size="8.05" font-weight="bold">Sex</text>
<rect x="431.20" y="116.80" width="20.30" height="12.35" fill="#ff2424" stroke="#000" stroke-width="1.0"/>
<rect x="432.20" y="117.80" width="18.30" height="10.35" fill="none" stroke="#ff2929" stroke-width="1"/>
<text transform="translate(453.00,125.77) scale(0.825,1)" font-size="8.05" font-weight="bold">M</text>
<rect x="431.20" y="129.15" width="20.30" height="12.35" fill="#41ade0" stroke="#000" stroke-width="1.0"/>
<rect x="432.20" y="130.15" width="18.30" height="10.35" fill="none" stroke="#4bc7ff" stroke-width="1"/>
<text transform="translate(453.00,138.13) scale(0.825,1)" font-size="8.05" font-weight="bold">F</text>
<text transform="translate(432.70,161.30) scale(0.825,1)" font-size="8.05" font-weight="bold">HGG Location</text>
<rect x="431.20" y="164.90" width="20.30" height="12.00" fill="#dcf1d3" stroke="#000" stroke-width="1.0"/>
<rect x="432.20" y="165.90" width="18.30" height="10.00" fill="none" stroke="#fdfff3" stroke-width="1"/>
<text transform="translate(453.00,173.50) scale(0.825,1)" font-size="8.05" font-weight="bold">Cerebellum</text>
<rect x="431.20" y="176.90" width="20.30" height="12.00" fill="#f5d3f1" stroke="#000" stroke-width="1.0"/>
<rect x="432.20" y="177.90" width="18.30" height="10.00" fill="none" stroke="#fff3ff" stroke-width="1"/>
<text transform="translate(453.00,185.50) scale(0.825,1)" font-size="8.05" font-weight="bold">Frontal</text>
<rect x="431.20" y="188.90" width="20.30" height="12.00" fill="#fde2d6" stroke="#000" stroke-width="1.0"/>
<rect x="432.20" y="189.90" width="18.30" height="10.00" fill="none" stroke="#fffff6" stroke-width="1"/>
<text transform="translate(453.00,197.50) scale(0.825,1)" font-size="8.05" font-weight="bold">Occipital</text>
<rect x="431.20" y="200.90" width="20.30" height="12.00" fill="#c5e7f7" stroke="#000" stroke-width="1.0"/>
<rect x="432.20" y="201.90" width="18.30" height="10.00" fill="none" stroke="#e3ffff" stroke-width="1"/>
<text transform="translate(453.00,209.50) scale(0.825,1)" font-size="8.05" font-weight="bold">Parietal</text>
<rect x="431.20" y="212.90" width="20.30" height="12.00" fill="#dadada" stroke="#000" stroke-width="1.0"/>
<rect x="432.20" y="213.90" width="18.30" height="10.00" fill="none" stroke="#fbfbfb" stroke-width="1"/>
<text transform="translate(453.00,221.50) scale(0.825,1)" font-size="8.05" font-weight="bold">Temporal</text>
<rect x="431.20" y="224.90" width="20.30" height="12.00" fill="#7030a0" stroke="#000" stroke-width="1.0"/>
<rect x="432.20" y="225.90" width="18.30" height="10.00" fill="none" stroke="#8137b8" stroke-width="1"/>
<text transform="translate(453.00,233.50) scale(0.825,1)" font-size="8.05" font-weight="bold">Thalamus</text>
<text transform="translate(432.90,256.10) scale(0.825,1)" font-size="8.05" font-weight="bold">GML</text>
<text transform="translate(450.60,255.90) scale(0.825,1)" font-size="7.0" font-weight="bold">§</text>
<rect x="431.20" y="259.90" width="20.30" height="12.12" fill="#d96fd1" stroke="#000" stroke-width="1.0"/>
<rect x="432.20" y="260.90" width="18.30" height="10.12" fill="none" stroke="#fa80f0" stroke-width="1"/>
<text transform="translate(453.00,269.06) scale(0.825,1)" font-size="8.05" font-weight="bold">MFG</text>
<rect x="431.20" y="272.02" width="20.30" height="12.12" fill="#c7efd0" stroke="#000" stroke-width="1.0"/>
<rect x="432.20" y="273.02" width="18.30" height="10.12" fill="none" stroke="#e5ffef" stroke-width="1"/>
<text transform="translate(453.00,281.18) scale(0.825,1)" font-size="8.05" font-weight="bold">MCG</text>
<rect x="431.20" y="284.14" width="20.30" height="12.12" fill="#85cdeb" stroke="#000" stroke-width="1.0"/>
<rect x="432.20" y="285.14" width="18.30" height="10.12" fill="none" stroke="#99ecff" stroke-width="1"/>
<text transform="translate(453.00,293.30) scale(0.825,1)" font-size="8.05" font-weight="bold">Both</text>
<rect x="431.20" y="296.26" width="20.30" height="12.12" fill="#ffffff" stroke="#000" stroke-width="1.0"/>
<text transform="translate(453.00,305.42) scale(0.825,1)" font-size="8.05" font-weight="bold">Not GML</text>
<text transform="translate(499.50,114.00) scale(0.825,1)" font-size="8.05" font-weight="bold">HGG type</text>
<rect x="497.80" y="116.80" width="21.20" height="12.10" fill="#dce9f8" stroke="#000" stroke-width="1.0"/>
<rect x="498.80" y="117.80" width="19.20" height="10.10" fill="none" stroke="#fdffff" stroke-width="1"/>
<text transform="translate(520.70,125.75) scale(0.825,1)" font-size="8.05" font-weight="bold">Astrocytoma, IDH-mutant, WHO Grade 4</text>
<rect x="497.80" y="128.90" width="21.20" height="12.10" fill="#a8caee" stroke="#000" stroke-width="1.0"/>
<rect x="498.80" y="129.90" width="19.20" height="10.10" fill="none" stroke="#c1e8ff" stroke-width="1"/>
<text transform="translate(520.70,137.85) scale(0.825,1)" font-size="8.05" font-weight="bold">DMG, H3K27-altered, WHO Grade 4</text>
<rect x="497.80" y="141.00" width="21.20" height="12.10" fill="#4a90d9" stroke="#000" stroke-width="1.0"/>
<rect x="498.80" y="142.00" width="19.20" height="10.10" fill="none" stroke="#55a6fa" stroke-width="1"/>
<text transform="translate(520.70,149.95) scale(0.825,1)" font-size="8.05" font-weight="bold">Epithelioid glioblastoma, WHO Grade 4</text>
<rect x="497.80" y="153.10" width="21.20" height="12.10" fill="#215c9c" stroke="#000" stroke-width="1.0"/>
<rect x="498.80" y="154.10" width="19.20" height="10.10" fill="none" stroke="#266ab3" stroke-width="1"/>
<text transform="translate(520.70,162.05) scale(0.825,1)" font-size="8.05" font-weight="bold">Glioblastoma, WHO Grade 4</text>
<rect x="497.80" y="165.20" width="21.20" height="12.10" fill="#000000" stroke="#000" stroke-width="1.0"/>
<text transform="translate(520.70,174.15) scale(0.825,1)" font-size="8.05" font-weight="bold">Diffuse astrocytoma WHO Grade 3</text>
<text transform="translate(524.10,184.40) scale(1,1)" font-size="13.3">→</text>
<text transform="translate(536.90,184.30) scale(0.825,1)" font-size="8.05" font-weight="bold">Glioblastoma, WHO grade 4*</text>
<text transform="translate(499.70,197.40) scale(0.825,1)" font-size="8.05" font-weight="bold">Somatic alterations</text>
<rect x="497.80" y="200.50" width="20.70" height="12.00" fill="#ff0000" stroke="#000" stroke-width="1.0"/>
<text transform="translate(520.70,209.60) scale(0.825,1)" font-size="8.05" font-weight="bold">Mutant</text>
<rect x="497.80" y="212.50" width="20.70" height="12.00" fill="#4a90d9" stroke="#000" stroke-width="1.0"/>
<rect x="498.80" y="213.50" width="18.70" height="10.00" fill="none" stroke="#55a6fa" stroke-width="1"/>
<text transform="translate(520.70,221.60) scale(0.825,1)" font-size="8.05" font-weight="bold">Amplification</text>
<rect x="497.80" y="224.50" width="20.70" height="12.00" fill="#92db7a" stroke="#000" stroke-width="1.0"/>
<rect x="498.80" y="225.50" width="18.70" height="10.00" fill="none" stroke="#a8fc8c" stroke-width="1"/>
<text transform="translate(520.70,233.60) scale(0.825,1)" font-size="8.05" font-weight="bold">Rearrangement/fusion</text>
<rect x="497.80" y="236.50" width="20.70" height="12.00" fill="#92db7a" stroke="#000" stroke-width="1.0"/>
<rect x="498.80" y="237.50" width="18.70" height="10.00" fill="none" stroke="#a8fc8c" stroke-width="1"/>
<line x1="497.80" y1="236.50" x2="518.50" y2="248.50" stroke="#000" stroke-width="0.8"/>
<text transform="translate(520.70,245.60) scale(0.825,1)" font-size="8.05" font-weight="bold">Rearrangement + amplification</text>
<rect x="497.80" y="248.50" width="20.70" height="12.00" fill="#e97334" stroke="#000" stroke-width="1.0"/>
<rect x="498.80" y="249.50" width="18.70" height="10.00" fill="none" stroke="#ff843c" stroke-width="1"/>
<text transform="translate(520.70,257.60) scale(0.825,1)" font-size="8.05" font-weight="bold">Methylated</text>
<rect x="497.80" y="260.50" width="20.70" height="12.00" fill="#ffff00" stroke="#000" stroke-width="1.0"/>
<text transform="translate(520.70,269.60) scale(0.825,1)" font-size="8.05" font-weight="bold">Unmethylated</text>
<rect x="497.80" y="272.50" width="20.70" height="12.00" fill="#d96fd1" stroke="#000" stroke-width="1.0"/>
<rect x="498.80" y="273.50" width="18.70" height="10.00" fill="none" stroke="#fa80f0" stroke-width="1"/>
<text transform="translate(520.70,281.60) scale(0.825,1)" font-size="8.05" font-weight="bold">Homozygous deletion</text>
<rect x="497.80" y="284.50" width="20.70" height="12.00" fill="#ffffff" stroke="#000" stroke-width="1.0"/>
<text transform="translate(520.70,293.60) scale(0.825,1)" font-size="8.05" font-weight="bold">No alteration detected</text>
<rect x="497.80" y="296.50" width="20.70" height="12.00" fill="#d0d0d0" stroke="#000" stroke-width="1.0"/>
<rect x="498.80" y="297.50" width="18.70" height="10.00" fill="none" stroke="#efefef" stroke-width="1"/>
<text transform="translate(520.70,305.60) scale(0.825,1)" font-size="8.05" font-weight="bold">Not tested</text>
<text transform="translate(623.80,197.20) scale(0.825,1)" font-size="8.05" font-weight="bold">CT and RT</text>
<rect x="622.40" y="200.70" width="19.50" height="12.15" fill="#c00000" stroke="#000" stroke-width="1.0"/>
<rect x="623.40" y="201.70" width="17.50" height="10.15" fill="none" stroke="#dd0000" stroke-width="1"/>
<text transform="translate(643.70,209.17) scale(0.825,1)" font-size="8.05" font-weight="bold">Yes, Stupp</text>
<rect x="622.40" y="212.85" width="19.50" height="12.15" fill="#1f4068" stroke="#000" stroke-width="1.0"/>
<rect x="623.40" y="213.85" width="17.50" height="10.15" fill="none" stroke="#244a78" stroke-width="1"/>
<text transform="translate(643.70,221.32) scale(0.825,1)" font-size="8.05" font-weight="bold">Yes, Other *</text>
<rect x="622.40" y="225.00" width="19.50" height="12.15" fill="#a02b93" stroke="#000" stroke-width="1.0"/>
<rect x="623.40" y="226.00" width="17.50" height="10.15" fill="none" stroke="#b831a9" stroke-width="1"/>
<text transform="translate(643.70,233.47) scale(0.825,1)" font-size="8.05" font-weight="bold">EBRT only</text>
<rect x="622.40" y="237.15" width="19.50" height="12.15" fill="#ffffff" stroke="#000" stroke-width="1.0"/>
<text transform="translate(643.70,245.62) scale(0.825,1)" font-size="8.05" font-weight="bold">No CT or RT</text>
<text transform="translate(432.70,335.30) scale(0.825,1)" font-size="8.05" font-weight="bold">Clinical presentation</text>
<rect x="431.20" y="338.70" width="20.30" height="12.04" fill="#ffffff" stroke="#000" stroke-width="1.0"/>
<text transform="translate(453.00,347.72) scale(0.825,1)" font-size="8.05" font-weight="bold">Asymptomatic/incidental</text>
<rect x="431.20" y="350.74" width="20.30" height="12.04" fill="#1c648a" stroke="#000" stroke-width="1.0"/>
<rect x="432.20" y="351.74" width="18.30" height="10.04" fill="none" stroke="#20739f" stroke-width="1"/>
<text transform="translate(453.00,359.76) scale(0.825,1)" font-size="8.05" font-weight="bold">Facial swelling/lymphadenopathy</text>
<rect x="431.20" y="362.78" width="20.30" height="12.04" fill="#ff0000" stroke="#000" stroke-width="1.0"/>
<text transform="translate(453.00,371.80) scale(0.825,1)" font-size="8.05" font-weight="bold">Back pain w/wo SCC</text>
<rect x="431.20" y="374.82" width="20.30" height="12.04" fill="#4bd05c" stroke="#000" stroke-width="1.0"/>
<rect x="432.20" y="375.82" width="18.30" height="10.04" fill="none" stroke="#56ef6a" stroke-width="1"/>
<text transform="translate(453.00,383.84) scale(0.825,1)" font-size="8.05" font-weight="bold">Palpable subcutaneous mass</text>
<rect x="431.20" y="386.86" width="20.30" height="12.04" fill="#e2e2e2" stroke="#000" stroke-width="1.0"/>
<rect x="432.20" y="387.86" width="18.30" height="10.04" fill="none" stroke="#ffffff" stroke-width="1"/>
<text transform="translate(453.00,395.88) scale(0.825,1)" font-size="8.05" font-weight="bold">Altered mental status + respiratory symptoms</text>
<text transform="translate(432.70,414.00) scale(0.825,1)" font-size="8.05" font-weight="bold">Site</text>
<rect x="431.20" y="417.60" width="20.30" height="12.05" fill="#ffffff" stroke="#000" stroke-width="1.0"/>
<text x="439.00" y="426.90" font-size="8.2" class="ck">✓</text>
<text transform="translate(453.00,426.62) scale(0.825,1)" font-size="8.05" font-weight="bold">Present</text>
<rect x="431.20" y="429.65" width="20.30" height="12.05" fill="#ffffff" stroke="#000" stroke-width="1.0"/>
<text transform="translate(453.00,438.68) scale(0.825,1)" font-size="8.05" font-weight="bold">Absent</text>
<text transform="translate(499.70,414.00) scale(0.825,1)" font-size="8.05" font-weight="bold">Management</text>
<rect x="497.60" y="417.60" width="21.00" height="12.05" fill="#ffffff" stroke="#000" stroke-width="1.0"/>
<text x="505.75" y="426.90" font-size="8.2" class="ck">✓</text>
<text transform="translate(520.70,426.62) scale(0.825,1)" font-size="8.05" font-weight="bold">Present</text>
<rect x="497.60" y="429.65" width="21.00" height="12.05" fill="#ffffff" stroke="#000" stroke-width="1.0"/>
<text transform="translate(520.70,438.68) scale(0.825,1)" font-size="8.05" font-weight="bold">Absent</text>
<text transform="translate(432.70,456.00) scale(0.825,1)" font-size="8.05" font-weight="bold">LMD</text>
<rect x="431.20" y="459.60" width="20.30" height="12.05" fill="#ff0000" stroke="#000" stroke-width="1.0"/>
<text transform="translate(453.00,468.23) scale(0.825,1)" font-size="8.05" font-weight="bold">Yes</text>
<rect x="431.20" y="471.65" width="20.30" height="12.05" fill="#ffffff" stroke="#000" stroke-width="1.0"/>
<text transform="translate(453.00,480.28) scale(0.825,1)" font-size="8.05" font-weight="bold">No</text>
<text transform="translate(499.70,456.00) scale(0.825,1)" font-size="8.05" font-weight="bold">Vital status</text>
<rect x="497.60" y="459.60" width="21.00" height="12.05" fill="#1c648a" stroke="#000" stroke-width="1.0"/>
<rect x="498.60" y="460.60" width="19.00" height="10.05" fill="none" stroke="#20739f" stroke-width="1"/>
<text transform="translate(520.70,468.23) scale(0.825,1)" font-size="8.05" font-weight="bold">Deceased</text>
<rect x="497.60" y="471.65" width="21.00" height="12.05" fill="#ffffff" stroke="#000" stroke-width="1.0"/>
<text transform="translate(520.70,480.28) scale(0.825,1)" font-size="8.05" font-weight="bold">Alive</text>
</svg>
</body></html>
